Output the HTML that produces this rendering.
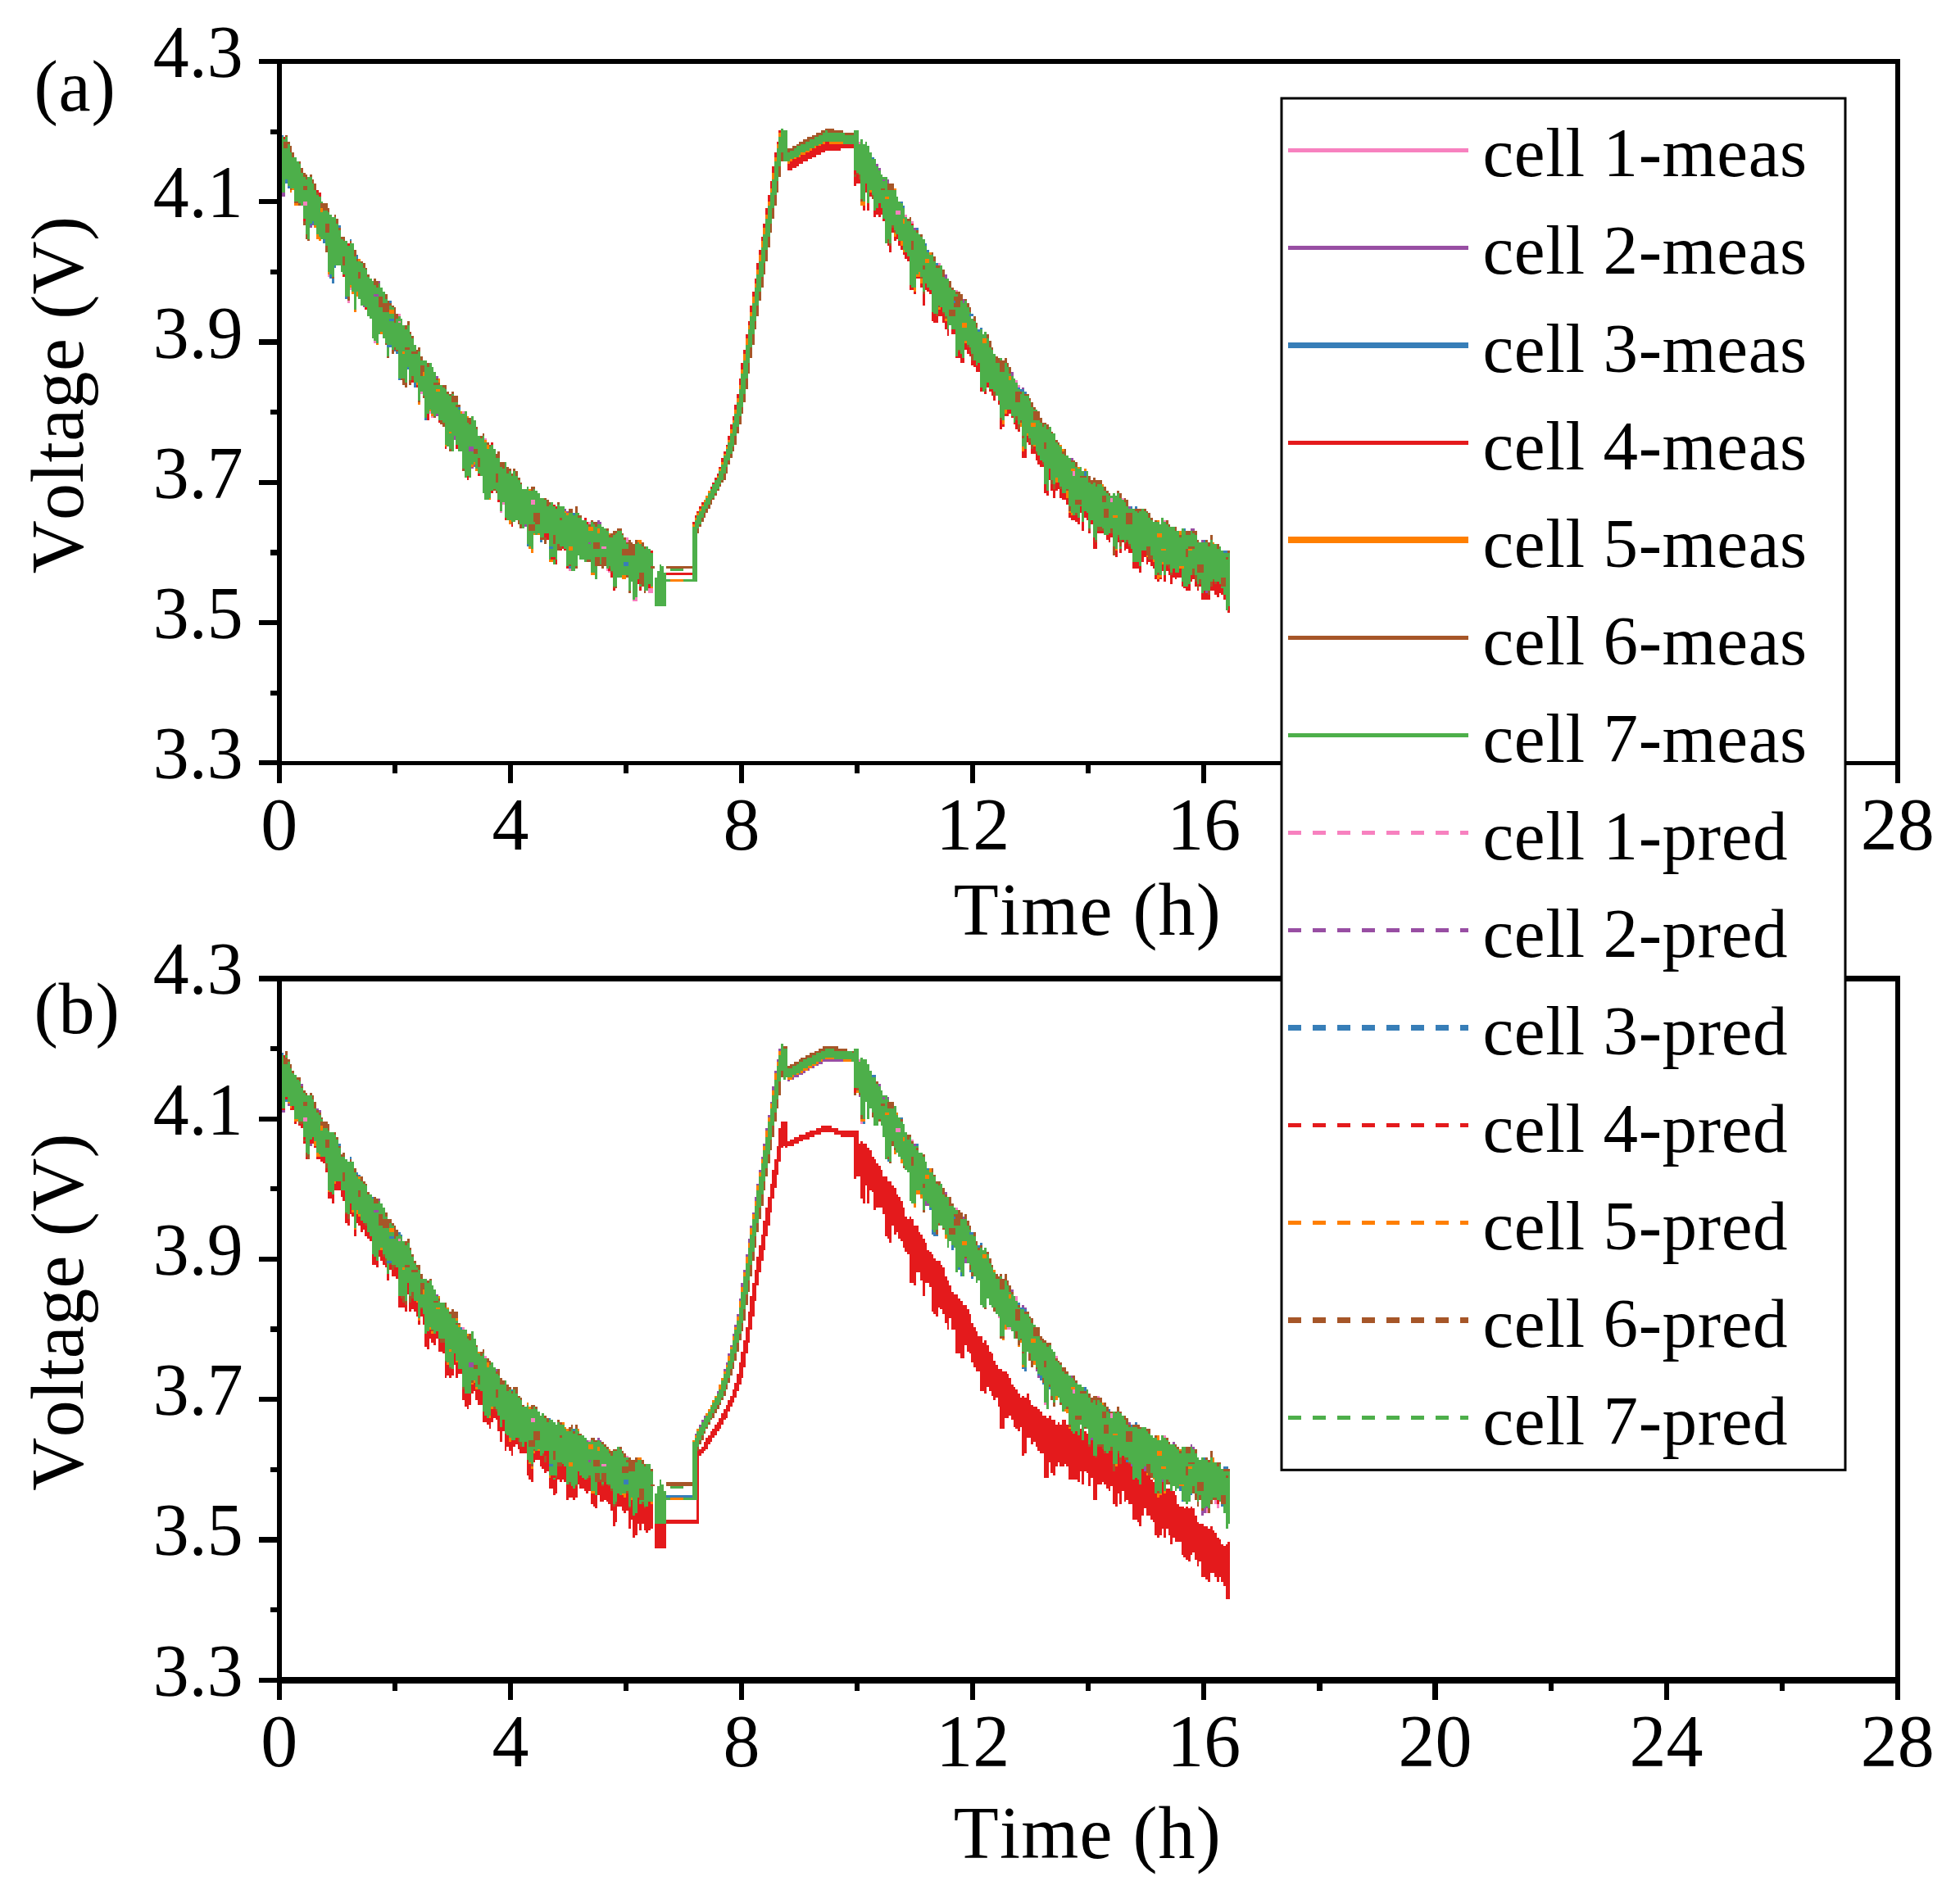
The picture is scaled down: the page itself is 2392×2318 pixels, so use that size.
<!DOCTYPE html>
<html lang="en"><head><meta charset="utf-8"><title>Cell voltage: measured vs predicted</title>
<style>html,body{margin:0;padding:0;background:#fff;overflow:hidden}svg{display:block}</style></head>
<body>
<svg width="2392" height="2318" viewBox="0 0 2392 2318" role="img" aria-label="Measured and predicted cell voltages">
<rect width="2392" height="2318" fill="#fff"/>
<g transform="scale(2.7)" fill="none" stroke-width="1.02" shape-rendering="crispEdges">
<path stroke="#f781bf" d="M126.5 61v25M127.5 62v25M128.5 63v24M129.5 62v20M130.5 65v19M131.5 67v19M132.5 70v16M133.5 71v20M134.5 73v18M135.5 74v18M136.5 78v14M137.5 79v21M138.5 80v27M139.5 82v26M140.5 82v20M141.5 83v18M142.5 85v16M143.5 88v20M144.5 89v19M145.5 91v17M146.5 94v14M147.5 96v16M148.5 97v28M149.5 99v26M150.5 100v27M151.5 98v21M152.5 101v18M153.5 103v16M154.5 108v14M155.5 108v15M156.5 109v25M157.5 110v27M158.5 110v21M159.5 112v19M160.5 115v24M161.5 117v14M162.5 118v15M163.5 119v18M164.5 121v15M165.5 123v15M166.5 126v16M167.5 128v16M168.5 128v25M169.5 129v26M170.5 130v25M171.5 130v20M172.5 130v20M173.5 132v21M174.5 135v20M175.5 136v23M176.5 137v18M177.5 139v19M178.5 141v17M179.5 144v15M180.5 142v29M181.5 144v28M182.5 147v25M183.5 149v24M184.5 147v18M185.5 150v22M186.5 152v18M187.5 157v15M188.5 158v14M189.5 158v22M190.5 162v16M191.5 165v15M192.5 165v24M193.5 166v23M194.5 165v22M195.5 167v22M196.5 169v20M197.5 171v15M198.5 173v16M199.5 176v14M200.5 176v15M201.5 176v26M202.5 178v23M203.5 179v23M204.5 178v26M205.5 180v18M206.5 182v20M207.5 185v19M208.5 187v17M209.5 186v27M210.5 186v28M211.5 190v24M212.5 189v25M213.5 188v21M214.5 191v19M215.5 193v20M216.5 197v17M217.5 199v15M218.5 196v26M219.5 198v26M220.5 201v24M221.5 202v24M222.5 203v19M223.5 204v15M224.5 206v16M225.5 207v19M226.5 210v22M227.5 211v17M228.5 210v24M229.5 212v23M230.5 214v21M231.5 215v22M232.5 213v21M233.5 215v18M234.5 217v18M235.5 218v20M236.5 221v17M237.5 222v15M238.5 221v25M239.5 223v25M240.5 222v28M241.5 220v22M242.5 223v17M243.5 224v16M244.5 225v19M245.5 225v19M246.5 226v18M247.5 228v16M248.5 227v26M249.5 228v24M250.5 230v23M251.5 231v22M252.5 228v19M253.5 229v18M254.5 229v18M255.5 231v17M256.5 233v23M257.5 232v26M258.5 232v26M259.5 234v22M260.5 231v24M261.5 232v18M262.5 234v17M263.5 235v18M264.5 235v19M265.5 237v16M266.5 236v17M267.5 235v24M268.5 237v21M269.5 238v20M270.5 235v19M271.5 236v20M272.5 238v18M273.5 239v16M274.5 240v18M275.5 242v17M276.5 242v17M277.5 241v25M278.5 242v24M279.5 241v18M280.5 241v19M281.5 242v18M282.5 245v15M283.5 243v16M284.5 247v19M285.5 248v15M286.5 246v26M287.5 245v27M288.5 246v16M289.5 246v19M290.5 248v16M291.5 250v18M292.5 249v18M293.5 249v19M294.5 249v19M296.5 261v13M297.5 258v16M298.5 255v19M299.5 256v18M300.5 259v15M301.5 256v1M302.5 256v1M303.5 256v1M304.5 256v1M305.5 256v1M306.5 256v1M307.5 256v1M308.5 256v1M309.5 256v1M310.5 256v1M311.5 256v1M312.5 256v1M313.5 239v18M314.5 237v20M315.5 234v7M316.5 232v6M317.5 230v6M318.5 228v5M319.5 226v5M320.5 224v5M321.5 222v6M322.5 220v6M323.5 219v5M324.5 217v5M325.5 215v5M326.5 212v6M327.5 208v8M328.5 205v8M329.5 202v8M330.5 198v9M331.5 194v9M332.5 189v11M333.5 185v10M334.5 180v11M335.5 173v13M336.5 166v15M337.5 160v15M338.5 153v15M339.5 147v14M340.5 140v14M341.5 134v14M342.5 127v15M343.5 121v14M344.5 115v14M345.5 109v14M346.5 103v13M347.5 96v14M348.5 90v14M349.5 84v14M350.5 77v15M351.5 70v16M352.5 65v14M353.5 60v12M354.5 59v14M355.5 59v14M356.5 70v4M357.5 69v4M358.5 69v4M359.5 68v4M360.5 68v4M361.5 67v4M362.5 66v5M363.5 66v4M364.5 65v4M365.5 65v4M366.5 64v4M367.5 64v4M368.5 63v4M369.5 63v4M370.5 62v4M371.5 62v4M372.5 61v4M373.5 61v4M374.5 61v4M375.5 61v4M376.5 61v4M377.5 61v4M378.5 61v4M379.5 61v4M380.5 61v4M381.5 61v4M382.5 61v4M383.5 61v4M384.5 61v4M385.5 61v4M386.5 59v19M387.5 59v18M388.5 64v16M389.5 64v29M390.5 66v27M391.5 65v17M392.5 68v22M393.5 69v18M394.5 72v16M395.5 73v22M396.5 75v19M397.5 76v16M398.5 79v15M399.5 80v17M400.5 80v28M401.5 83v27M402.5 84v27M403.5 85v17M404.5 87v19M405.5 90v15M406.5 91v15M407.5 92v16M408.5 95v17M409.5 97v17M410.5 100v16M411.5 98v30M412.5 100v29M413.5 104v26M414.5 104v20M415.5 106v18M416.5 107v19M417.5 110v23M418.5 112v16M419.5 115v16M420.5 117v15M421.5 117v26M422.5 119v23M423.5 119v24M424.5 119v20M425.5 120v19M426.5 122v20M427.5 126v19M428.5 127v19M429.5 130v13M430.5 133v16M431.5 131v15M432.5 131v27M433.5 135v24M434.5 135v25M435.5 135v26M436.5 135v21M437.5 139v17M438.5 141v16M439.5 144v18M440.5 144v17M441.5 147v18M442.5 150v14M443.5 149v24M444.5 152v23M445.5 151v25M446.5 152v20M447.5 155v19M448.5 158v17M449.5 160v17M450.5 163v16M451.5 164v17M452.5 163v26M453.5 165v25M454.5 164v21M455.5 167v19M456.5 168v18M457.5 169v17M458.5 171v18M459.5 172v18M460.5 174v18M461.5 177v13M462.5 176v26M463.5 178v25M464.5 178v17M465.5 180v19M466.5 183v19M467.5 185v14M468.5 186v16M469.5 189v17M470.5 191v17M471.5 192v17M472.5 192v29M473.5 195v24M474.5 193v18M475.5 196v21M476.5 196v24M477.5 199v16M478.5 201v15M479.5 202v18M480.5 204v17M481.5 205v16M482.5 207v15M483.5 207v23M484.5 207v25M485.5 209v23M486.5 211v21M487.5 212v21M488.5 211v17M489.5 214v22M490.5 214v16M491.5 214v18M492.5 217v21M493.5 219v16M494.5 216v27M495.5 217v27M496.5 217v21M497.5 219v20M498.5 220v17M499.5 220v21M500.5 222v18M501.5 224v16M502.5 224v15M503.5 224v27M504.5 224v27M505.5 224v19M506.5 225v22M507.5 225v18M508.5 227v19M509.5 228v17M510.5 229v17M511.5 230v17M512.5 231v22M513.5 230v24M514.5 231v23M515.5 232v22M516.5 230v19M517.5 231v18M518.5 232v21M519.5 233v18M520.5 235v18M521.5 237v16M522.5 235v24M523.5 235v25M524.5 237v23M525.5 235v20M526.5 235v26M527.5 235v21M528.5 238v18M529.5 238v22M530.5 238v18M531.5 239v17M532.5 241v14M533.5 243v13M534.5 240v22M535.5 240v22M536.5 242v21M537.5 242v22M538.5 240v20M539.5 242v16M540.5 243v20M541.5 245v21M542.5 246v15M543.5 245v23M544.5 245v22M545.5 245v24M546.5 245v25M547.5 243v20M548.5 245v18M549.5 246v20M550.5 248v19M551.5 248v16M552.5 249v17M553.5 249v19M554.5 250v24M555.5 250v24"/>
<path stroke="#984ea3" d="M126.5 61v23M127.5 63v26M128.5 63v26M129.5 62v21M130.5 65v20M131.5 68v18M132.5 70v16M133.5 71v20M134.5 73v18M135.5 75v17M136.5 76v17M137.5 79v22M138.5 80v27M139.5 81v27M140.5 81v22M141.5 83v19M142.5 85v18M143.5 87v21M144.5 88v21M145.5 91v17M146.5 94v14M147.5 96v16M148.5 96v26M149.5 99v26M150.5 100v27M151.5 98v21M152.5 100v19M153.5 104v16M154.5 109v13M155.5 108v14M156.5 109v25M157.5 110v25M158.5 110v19M159.5 111v20M160.5 114v25M161.5 117v15M162.5 118v17M163.5 120v18M164.5 120v19M165.5 122v17M166.5 126v14M167.5 127v15M168.5 128v24M169.5 129v23M170.5 128v28M171.5 127v24M172.5 131v20M173.5 133v18M174.5 135v18M175.5 136v23M176.5 137v19M177.5 139v20M178.5 141v17M179.5 144v15M180.5 144v27M181.5 145v27M182.5 147v25M183.5 148v25M184.5 147v18M185.5 151v22M186.5 153v18M187.5 156v19M188.5 158v17M189.5 159v22M190.5 164v13M191.5 164v15M192.5 164v25M193.5 165v24M194.5 164v20M195.5 166v20M196.5 169v20M197.5 170v18M198.5 172v19M199.5 176v15M200.5 176v15M201.5 176v25M202.5 178v24M203.5 179v24M204.5 179v25M205.5 181v18M206.5 182v20M207.5 185v18M208.5 187v15M209.5 187v25M210.5 187v27M211.5 190v25M212.5 190v25M213.5 189v23M214.5 191v20M215.5 194v18M216.5 197v18M217.5 199v14M218.5 198v24M219.5 199v25M220.5 200v24M221.5 202v23M222.5 202v20M223.5 204v17M224.5 205v17M225.5 207v19M226.5 211v19M227.5 212v15M228.5 211v23M229.5 212v23M230.5 214v22M231.5 216v22M232.5 212v22M233.5 214v19M234.5 217v18M235.5 218v19M236.5 222v17M237.5 223v15M238.5 221v25M239.5 223v24M240.5 222v26M241.5 221v19M242.5 222v16M243.5 224v15M244.5 226v19M245.5 227v17M246.5 228v16M247.5 228v15M248.5 227v27M249.5 229v25M250.5 229v24M251.5 229v23M252.5 228v21M253.5 230v18M254.5 230v17M255.5 230v17M256.5 231v24M257.5 232v24M258.5 232v23M259.5 233v22M260.5 231v24M261.5 232v18M262.5 233v18M263.5 235v17M264.5 236v16M265.5 237v16M266.5 238v15M267.5 237v21M268.5 237v21M269.5 238v22M270.5 235v18M271.5 236v20M272.5 238v19M273.5 240v16M274.5 239v17M275.5 241v15M276.5 243v16M277.5 241v25M278.5 241v25M279.5 240v19M280.5 242v18M281.5 241v19M282.5 243v17M283.5 245v15M284.5 246v21M285.5 247v16M286.5 246v25M287.5 246v24M288.5 245v19M289.5 246v20M290.5 247v17M291.5 247v20M292.5 249v18M293.5 249v15M294.5 250v14M296.5 261v13M297.5 258v16M298.5 255v19M299.5 256v18M300.5 259v15M301.5 256v1M302.5 256v1M303.5 256v1M304.5 256v1M305.5 256v1M306.5 256v1M307.5 256v1M308.5 256v1M309.5 256v1M310.5 256v1M311.5 256v1M312.5 256v1M313.5 236v21M314.5 234v23M315.5 231v7M316.5 230v5M317.5 228v5M318.5 226v5M319.5 224v5M320.5 222v5M321.5 220v5M322.5 218v6M323.5 216v6M324.5 214v6M325.5 211v7M326.5 208v8M327.5 205v8M328.5 201v8M329.5 198v8M330.5 193v10M331.5 189v10M332.5 184v11M333.5 179v11M334.5 172v14M335.5 166v15M336.5 159v15M337.5 152v15M338.5 146v14M339.5 139v15M340.5 133v14M341.5 127v14M342.5 120v15M343.5 114v14M344.5 108v14M345.5 102v14M346.5 96v14M347.5 89v15M348.5 83v14M349.5 77v14M350.5 70v15M351.5 65v13M352.5 60v11M353.5 58v8M354.5 59v14M355.5 59v14M356.5 70v4M357.5 70v4M358.5 69v4M359.5 69v4M360.5 68v4M361.5 67v4M362.5 67v4M363.5 66v4M364.5 66v4M365.5 65v4M366.5 65v4M367.5 64v4M368.5 64v4M369.5 63v4M370.5 63v4M371.5 62v4M372.5 61v5M373.5 61v4M374.5 61v4M375.5 61v4M376.5 61v4M377.5 61v4M378.5 61v4M379.5 61v4M380.5 61v4M381.5 61v4M382.5 61v4M383.5 61v4M384.5 61v4M385.5 61v5M386.5 59v20M387.5 59v20M388.5 66v16M389.5 63v28M390.5 65v26M391.5 66v17M392.5 68v23M393.5 69v18M394.5 73v15M395.5 73v21M396.5 74v19M397.5 76v16M398.5 79v14M399.5 81v15M400.5 80v28M401.5 81v28M402.5 84v26M403.5 85v17M404.5 86v20M405.5 89v17M406.5 91v17M407.5 92v18M408.5 95v17M409.5 98v14M410.5 100v14M411.5 99v28M412.5 102v26M413.5 103v27M414.5 103v20M415.5 106v17M416.5 107v19M417.5 109v24M418.5 111v19M419.5 115v15M420.5 115v14M421.5 116v24M422.5 119v23M423.5 120v23M424.5 120v19M425.5 122v17M426.5 123v19M427.5 124v20M428.5 127v20M429.5 129v15M430.5 131v18M431.5 131v15M432.5 133v25M433.5 135v22M434.5 134v25M435.5 135v27M436.5 137v19M437.5 139v18M438.5 141v17M439.5 144v18M440.5 145v16M441.5 148v16M442.5 151v13M443.5 150v23M444.5 153v22M445.5 152v24M446.5 153v19M447.5 156v17M448.5 158v16M449.5 160v19M450.5 163v16M451.5 164v15M452.5 164v26M453.5 165v26M454.5 164v20M455.5 167v16M456.5 167v17M457.5 168v18M458.5 171v18M459.5 173v16M460.5 176v17M461.5 179v12M462.5 175v29M463.5 177v28M464.5 179v17M465.5 181v17M466.5 183v18M467.5 186v15M468.5 186v19M469.5 189v19M470.5 191v17M471.5 192v19M472.5 192v26M473.5 195v24M474.5 194v18M475.5 196v21M476.5 197v23M477.5 200v17M478.5 201v17M479.5 202v19M480.5 205v15M481.5 206v17M482.5 208v16M483.5 207v25M484.5 207v26M485.5 210v22M486.5 211v21M487.5 212v21M488.5 211v17M489.5 213v23M490.5 214v17M491.5 215v16M492.5 217v22M493.5 219v18M494.5 217v27M495.5 219v26M496.5 218v20M497.5 219v19M498.5 220v21M499.5 221v21M500.5 223v17M501.5 225v15M502.5 225v14M503.5 225v24M504.5 226v24M505.5 224v18M506.5 225v21M507.5 226v18M508.5 226v20M509.5 227v18M510.5 229v17M511.5 229v20M512.5 230v25M513.5 230v24M514.5 231v23M515.5 231v23M516.5 230v19M517.5 231v20M518.5 232v19M519.5 234v17M520.5 236v15M521.5 237v15M522.5 236v23M523.5 236v25M524.5 237v24M525.5 235v21M526.5 236v25M527.5 237v18M528.5 238v18M529.5 238v22M530.5 238v19M531.5 240v17M532.5 241v15M533.5 243v14M534.5 242v21M535.5 240v23M536.5 240v23M537.5 242v21M538.5 239v23M539.5 239v20M540.5 241v21M541.5 245v20M542.5 246v17M543.5 244v26M544.5 244v25M545.5 244v24M546.5 246v22M547.5 244v20M548.5 246v17M549.5 246v18M550.5 248v17M551.5 248v16M552.5 250v16M553.5 250v17M554.5 250v24M555.5 250v24"/>
<path stroke="#377eb8" d="M126.5 59v26M127.5 61v26M128.5 64v23M129.5 64v19M130.5 65v20M131.5 69v18M132.5 71v15M133.5 72v19M134.5 73v18M135.5 74v18M136.5 77v15M137.5 79v22M138.5 80v27M139.5 81v27M140.5 80v22M141.5 82v19M142.5 86v14M143.5 89v16M144.5 90v17M145.5 91v17M146.5 93v17M147.5 96v17M148.5 96v28M149.5 98v28M150.5 98v30M151.5 97v24M152.5 101v18M153.5 102v18M154.5 107v15M155.5 109v14M156.5 110v25M157.5 111v24M158.5 108v21M159.5 110v21M160.5 115v24M161.5 115v17M162.5 117v16M163.5 118v20M164.5 121v16M165.5 123v17M166.5 126v15M167.5 127v14M168.5 127v24M169.5 130v23M170.5 129v25M171.5 128v21M172.5 131v19M173.5 133v19M174.5 134v20M175.5 137v22M176.5 136v20M177.5 138v21M178.5 141v18M179.5 144v16M180.5 143v29M181.5 144v27M182.5 147v27M183.5 149v25M184.5 148v19M185.5 151v21M186.5 153v20M187.5 156v19M188.5 158v15M189.5 159v23M190.5 163v14M191.5 163v17M192.5 165v25M193.5 166v23M194.5 165v20M195.5 168v19M196.5 169v20M197.5 171v16M198.5 173v17M199.5 176v14M200.5 175v16M201.5 177v25M202.5 177v25M203.5 179v24M204.5 179v23M205.5 181v16M206.5 182v19M207.5 184v18M208.5 186v16M209.5 187v26M210.5 186v28M211.5 189v25M212.5 191v24M213.5 189v21M214.5 193v16M215.5 195v17M216.5 197v17M217.5 199v16M218.5 198v25M219.5 200v24M220.5 202v22M221.5 202v23M222.5 202v20M223.5 205v16M224.5 206v16M225.5 207v19M226.5 210v20M227.5 211v16M228.5 210v24M229.5 212v23M230.5 213v22M231.5 214v23M232.5 214v20M233.5 215v18M234.5 217v18M235.5 219v20M236.5 221v18M237.5 222v15M238.5 221v26M239.5 223v25M240.5 222v26M241.5 221v19M242.5 222v19M243.5 224v18M244.5 226v19M245.5 226v18M246.5 227v17M247.5 228v15M248.5 227v26M249.5 229v24M250.5 229v26M251.5 229v26M252.5 228v21M253.5 230v17M254.5 230v17M255.5 232v16M256.5 233v22M257.5 232v25M258.5 232v25M259.5 232v24M260.5 230v25M261.5 232v19M262.5 234v18M263.5 235v17M264.5 235v17M265.5 237v16M266.5 237v16M267.5 236v22M268.5 237v21M269.5 238v23M270.5 237v16M271.5 237v19M272.5 238v19M273.5 239v16M274.5 240v15M275.5 242v14M276.5 242v17M277.5 242v24M278.5 242v22M279.5 241v17M280.5 242v16M281.5 242v18M282.5 243v17M283.5 246v13M284.5 247v19M285.5 247v16M286.5 246v25M287.5 246v24M288.5 245v17M289.5 245v20M290.5 246v18M291.5 250v17M292.5 250v17M293.5 249v17M294.5 250v16M296.5 261v13M297.5 258v16M298.5 255v19M299.5 256v18M300.5 259v15M301.5 262v1M302.5 262v1M303.5 262v1M304.5 262v1M305.5 262v1M306.5 262v1M307.5 262v1M308.5 262v1M309.5 262v1M310.5 262v1M311.5 262v1M312.5 262v1M313.5 239v24M314.5 236v27M315.5 234v6M316.5 231v7M317.5 229v6M318.5 228v5M319.5 226v5M320.5 224v5M321.5 222v5M322.5 220v5M323.5 218v5M324.5 216v6M325.5 214v6M326.5 211v7M327.5 208v8M328.5 204v8M329.5 201v8M330.5 197v9M331.5 193v10M332.5 188v11M333.5 184v10M334.5 179v11M335.5 172v13M336.5 165v15M337.5 158v15M338.5 152v15M339.5 145v15M340.5 139v14M341.5 133v14M342.5 126v15M343.5 120v14M344.5 114v14M345.5 108v13M346.5 102v13M347.5 95v14M348.5 89v14M349.5 83v14M350.5 76v14M351.5 69v16M352.5 64v13M353.5 59v12M354.5 59v14M355.5 59v14M356.5 69v4M357.5 69v4M358.5 68v4M359.5 67v4M360.5 67v4M361.5 66v4M362.5 66v4M363.5 65v4M364.5 65v4M365.5 64v4M366.5 64v4M367.5 63v4M368.5 63v4M369.5 62v4M370.5 61v5M371.5 61v4M372.5 60v4M373.5 60v4M374.5 60v4M375.5 60v4M376.5 60v4M377.5 60v4M378.5 60v4M379.5 60v5M380.5 61v4M381.5 61v4M382.5 61v4M383.5 61v4M384.5 61v4M385.5 61v4M386.5 59v21M387.5 59v19M388.5 66v14M389.5 65v26M390.5 66v27M391.5 65v17M392.5 68v22M393.5 69v18M394.5 71v17M395.5 72v23M396.5 75v19M397.5 77v15M398.5 79v15M399.5 81v16M400.5 81v28M401.5 83v27M402.5 84v26M403.5 85v17M404.5 87v19M405.5 90v15M406.5 91v16M407.5 91v18M408.5 93v18M409.5 98v15M410.5 100v14M411.5 99v29M412.5 102v28M413.5 104v27M414.5 103v20M415.5 107v16M416.5 108v18M417.5 109v24M418.5 110v18M419.5 113v16M420.5 115v17M421.5 116v27M422.5 119v25M423.5 119v26M424.5 120v19M425.5 122v16M426.5 123v17M427.5 126v18M428.5 127v20M429.5 129v17M430.5 130v20M431.5 131v15M432.5 133v28M433.5 136v23M434.5 136v26M435.5 137v25M436.5 137v18M437.5 139v18M438.5 141v19M439.5 144v20M440.5 145v18M441.5 148v17M442.5 149v15M443.5 148v25M444.5 152v22M445.5 151v24M446.5 153v19M447.5 156v18M448.5 158v18M449.5 160v18M450.5 161v16M451.5 163v16M452.5 164v25M453.5 165v25M454.5 164v22M455.5 167v16M456.5 169v14M457.5 170v16M458.5 171v18M459.5 173v17M460.5 175v18M461.5 176v16M462.5 176v28M463.5 177v28M464.5 178v18M465.5 180v18M466.5 183v17M467.5 186v15M468.5 185v19M469.5 187v20M470.5 191v19M471.5 193v18M472.5 193v26M473.5 194v28M474.5 193v21M475.5 196v21M476.5 197v23M477.5 200v17M478.5 201v17M479.5 202v19M480.5 205v17M481.5 206v15M482.5 208v14M483.5 209v21M484.5 209v21M485.5 208v23M486.5 209v23M487.5 212v21M488.5 212v16M489.5 214v22M490.5 214v17M491.5 215v17M492.5 217v21M493.5 219v16M494.5 217v25M495.5 219v24M496.5 218v19M497.5 219v19M498.5 220v19M499.5 221v19M500.5 223v18M501.5 223v20M502.5 226v15M503.5 225v24M504.5 225v22M505.5 224v21M506.5 225v22M507.5 226v17M508.5 227v20M509.5 228v18M510.5 230v17M511.5 229v18M512.5 230v23M513.5 229v25M514.5 230v24M515.5 230v24M516.5 230v19M517.5 231v18M518.5 233v18M519.5 234v17M520.5 234v16M521.5 236v16M522.5 235v25M523.5 235v25M524.5 238v22M525.5 235v20M526.5 237v23M527.5 237v18M528.5 238v17M529.5 239v20M530.5 238v19M531.5 238v19M532.5 240v16M533.5 240v19M534.5 240v25M535.5 239v24M536.5 241v24M537.5 242v23M538.5 240v22M539.5 241v16M540.5 242v21M541.5 245v18M542.5 246v14M543.5 245v23M544.5 244v23M545.5 244v24M546.5 246v22M547.5 244v20M548.5 246v17M549.5 247v17M550.5 247v18M551.5 248v17M552.5 250v16M553.5 249v18M554.5 249v27M555.5 250v25"/>
<path stroke="#e41a1c" d="M126.5 59v26M127.5 62v25M128.5 62v25M129.5 61v20M130.5 64v20M131.5 68v18M132.5 70v16M133.5 71v20M134.5 73v18M135.5 74v18M136.5 76v17M137.5 78v22M138.5 80v27M139.5 81v26M140.5 80v20M141.5 82v18M142.5 85v17M143.5 86v20M144.5 87v20M145.5 91v17M146.5 94v14M147.5 96v16M148.5 96v28M149.5 99v25M150.5 100v26M151.5 98v21M152.5 100v19M153.5 103v17M154.5 108v15M155.5 108v17M156.5 109v25M157.5 110v26M158.5 110v20M159.5 111v20M160.5 114v27M161.5 117v17M162.5 118v17M163.5 119v19M164.5 120v17M165.5 123v17M166.5 125v16M167.5 126v16M168.5 128v25M169.5 129v24M170.5 130v24M171.5 129v20M172.5 131v20M173.5 133v20M174.5 135v19M175.5 137v22M176.5 138v17M177.5 139v18M178.5 141v17M179.5 144v15M180.5 144v27M181.5 145v27M182.5 147v25M183.5 149v24M184.5 147v19M185.5 151v22M186.5 154v19M187.5 156v17M188.5 158v17M189.5 159v21M190.5 163v12M191.5 165v14M192.5 165v24M193.5 166v24M194.5 165v20M195.5 167v20M196.5 169v19M197.5 171v15M198.5 171v20M199.5 175v17M200.5 176v17M201.5 176v27M202.5 178v24M203.5 179v24M204.5 178v25M205.5 180v17M206.5 182v21M207.5 185v16M208.5 187v14M209.5 187v26M210.5 187v29M211.5 190v27M212.5 191v24M213.5 188v22M214.5 191v18M215.5 194v19M216.5 197v18M217.5 199v16M218.5 198v25M219.5 200v23M220.5 200v24M221.5 201v25M222.5 200v23M223.5 204v17M224.5 206v16M225.5 207v20M226.5 210v21M227.5 211v16M228.5 210v25M229.5 212v22M230.5 212v24M231.5 214v24M232.5 213v21M233.5 215v18M234.5 217v18M235.5 218v19M236.5 221v16M237.5 222v15M238.5 221v25M239.5 222v26M240.5 222v28M241.5 221v19M242.5 222v18M243.5 224v15M244.5 226v16M245.5 227v17M246.5 229v17M247.5 228v16M248.5 227v26M249.5 228v25M250.5 228v27M251.5 229v26M252.5 228v21M253.5 230v19M254.5 231v17M255.5 233v16M256.5 234v23M257.5 231v25M258.5 231v25M259.5 233v24M260.5 231v25M261.5 232v18M262.5 234v17M263.5 235v17M264.5 234v18M265.5 236v17M266.5 237v16M267.5 235v23M268.5 236v23M269.5 239v21M270.5 238v15M271.5 237v19M272.5 238v19M273.5 239v16M274.5 240v17M275.5 242v16M276.5 242v19M277.5 241v26M278.5 241v25M279.5 241v17M280.5 243v15M281.5 243v17M282.5 244v16M283.5 245v15M284.5 246v21M285.5 247v16M286.5 246v25M287.5 247v23M288.5 245v19M289.5 246v21M290.5 247v17M291.5 248v19M292.5 249v18M293.5 249v17M294.5 249v16M296.5 261v13M297.5 258v16M298.5 255v19M299.5 256v18M300.5 259v15M301.5 259v1M302.5 259v1M303.5 259v1M304.5 259v1M305.5 259v1M306.5 259v1M307.5 259v1M308.5 259v1M309.5 259v1M310.5 259v1M311.5 259v1M312.5 259v1M313.5 236v24M314.5 233v27M315.5 231v6M316.5 229v6M317.5 227v6M318.5 226v5M319.5 224v5M320.5 222v5M321.5 220v5M322.5 218v5M323.5 216v5M324.5 214v5M325.5 211v7M326.5 207v8M327.5 204v8M328.5 201v8M329.5 197v9M330.5 192v10M331.5 188v10M332.5 183v11M333.5 178v11M334.5 171v14M335.5 164v15M336.5 158v15M337.5 151v15M338.5 145v14M339.5 138v15M340.5 132v14M341.5 126v14M342.5 119v14M343.5 113v14M344.5 107v14M345.5 101v14M346.5 94v15M347.5 88v14M348.5 82v14M349.5 75v15M350.5 69v15M351.5 64v13M352.5 59v11M353.5 58v7M354.5 59v14M355.5 59v14M356.5 73v4M357.5 73v4M358.5 72v4M359.5 71v5M360.5 71v4M361.5 70v4M362.5 70v4M363.5 69v4M364.5 69v4M365.5 68v4M366.5 68v4M367.5 67v4M368.5 67v4M369.5 66v4M370.5 66v4M371.5 65v4M372.5 64v5M373.5 64v4M374.5 64v4M375.5 64v4M376.5 64v4M377.5 64v4M378.5 64v4M379.5 64v4M380.5 63v4M381.5 63v4M382.5 63v4M383.5 63v4M384.5 63v4M385.5 62v5M386.5 59v25M387.5 59v24M388.5 66v17M389.5 66v27M390.5 67v28M391.5 67v20M392.5 69v26M393.5 69v20M394.5 73v17M395.5 74v24M396.5 76v21M397.5 77v21M398.5 79v18M399.5 82v18M400.5 82v28M401.5 84v27M402.5 84v30M403.5 86v19M404.5 87v22M405.5 90v18M406.5 91v20M407.5 93v20M408.5 96v19M409.5 100v17M410.5 101v17M411.5 101v30M412.5 101v30M413.5 104v29M414.5 104v22M415.5 107v19M416.5 109v21M417.5 110v28M418.5 112v19M419.5 115v17M420.5 116v17M421.5 117v28M422.5 120v26M423.5 120v26M424.5 121v22M425.5 123v20M426.5 124v22M427.5 127v22M428.5 129v23M429.5 130v17M430.5 133v18M431.5 134v17M432.5 134v28M433.5 136v26M434.5 136v28M435.5 138v26M436.5 138v20M437.5 140v20M438.5 142v19M439.5 146v19M440.5 147v19M441.5 149v19M442.5 151v17M443.5 151v26M444.5 153v24M445.5 152v26M446.5 154v21M447.5 157v20M448.5 159v20M449.5 161v20M450.5 163v16M451.5 165v18M452.5 165v29M453.5 166v27M454.5 166v22M455.5 167v21M456.5 169v18M457.5 172v17M458.5 173v19M459.5 174v20M460.5 177v18M461.5 179v14M462.5 179v28M463.5 180v27M464.5 179v21M465.5 182v19M466.5 185v20M467.5 188v17M468.5 188v20M469.5 190v20M470.5 191v20M471.5 194v17M472.5 194v29M473.5 195v29M474.5 195v22M475.5 197v25M476.5 199v26M477.5 202v20M478.5 202v19M479.5 204v21M480.5 204v22M481.5 205v21M482.5 208v20M483.5 208v26M484.5 209v26M485.5 210v25M486.5 210v26M487.5 211v26M488.5 212v20M489.5 214v26M490.5 215v19M491.5 216v19M492.5 218v23M493.5 220v17M494.5 218v30M495.5 220v28M496.5 219v22M497.5 220v21M498.5 222v19M499.5 223v19M500.5 223v21M501.5 225v20M502.5 225v18M503.5 225v26M504.5 225v27M505.5 225v20M506.5 226v24M507.5 226v19M508.5 228v21M509.5 230v18M510.5 231v19M511.5 232v18M512.5 231v26M513.5 231v26M514.5 232v25M515.5 232v27M516.5 230v24M517.5 233v19M518.5 234v21M519.5 235v19M520.5 237v19M521.5 238v19M522.5 236v26M523.5 236v27M524.5 239v23M525.5 237v21M526.5 238v25M527.5 239v19M528.5 239v21M529.5 239v25M530.5 239v22M531.5 240v22M532.5 243v18M533.5 244v17M534.5 243v22M535.5 242v24M536.5 241v26M537.5 242v25M538.5 240v23M539.5 241v21M540.5 243v22M541.5 246v21M542.5 246v19M543.5 246v25M544.5 246v25M545.5 246v25M546.5 247v24M547.5 245v22M548.5 247v20M549.5 247v22M550.5 249v21M551.5 250v18M552.5 251v18M553.5 252v19M554.5 251v25M555.5 249v28"/>
<path stroke="#ff7f00" d="M126.5 61v23M127.5 62v25M128.5 63v24M129.5 62v19M130.5 65v19M131.5 68v19M132.5 70v16M133.5 71v22M134.5 73v20M135.5 74v16M136.5 77v16M137.5 79v22M138.5 80v26M139.5 81v28M140.5 81v18M141.5 83v15M142.5 85v18M143.5 88v20M144.5 89v20M145.5 91v17M146.5 94v13M147.5 96v16M148.5 96v28M149.5 98v26M150.5 99v25M151.5 97v23M152.5 99v19M153.5 103v15M154.5 108v14M155.5 108v15M156.5 109v24M157.5 111v24M158.5 110v20M159.5 112v21M160.5 115v26M161.5 117v17M162.5 117v18M163.5 118v19M164.5 120v16M165.5 122v16M166.5 125v16M167.5 127v16M168.5 127v26M169.5 129v24M170.5 130v26M171.5 128v21M172.5 132v19M173.5 133v20M174.5 136v19M175.5 136v24M176.5 137v18M177.5 139v21M178.5 141v16M179.5 144v14M180.5 144v27M181.5 145v27M182.5 147v25M183.5 147v26M184.5 146v20M185.5 151v22M186.5 153v18M187.5 156v17M188.5 158v16M189.5 159v24M190.5 162v15M191.5 164v16M192.5 164v25M193.5 166v23M194.5 164v22M195.5 166v22M196.5 168v21M197.5 171v16M198.5 171v19M199.5 177v12M200.5 178v12M201.5 176v26M202.5 177v25M203.5 180v23M204.5 178v25M205.5 179v18M206.5 182v19M207.5 185v16M208.5 186v15M209.5 187v26M210.5 187v27M211.5 188v26M212.5 190v25M213.5 190v21M214.5 193v17M215.5 194v19M216.5 197v16M217.5 199v15M218.5 198v25M219.5 199v25M220.5 200v25M221.5 201v25M222.5 202v20M223.5 204v17M224.5 206v15M225.5 207v18M226.5 211v18M227.5 211v16M228.5 211v23M229.5 212v23M230.5 213v24M231.5 215v22M232.5 213v22M233.5 215v19M234.5 217v18M235.5 219v19M236.5 222v16M237.5 222v15M238.5 220v26M239.5 221v27M240.5 223v27M241.5 222v20M242.5 222v19M243.5 224v18M244.5 226v17M245.5 226v18M246.5 227v17M247.5 227v16M248.5 227v27M249.5 228v26M250.5 229v24M251.5 230v23M252.5 228v19M253.5 230v17M254.5 229v17M255.5 231v17M256.5 232v24M257.5 231v25M258.5 231v25M259.5 233v23M260.5 231v26M261.5 232v19M262.5 233v17M263.5 235v16M264.5 235v17M265.5 238v15M266.5 238v16M267.5 236v24M268.5 237v23M269.5 238v22M270.5 237v17M271.5 237v19M272.5 238v18M273.5 240v16M274.5 240v17M275.5 241v16M276.5 241v18M277.5 241v25M278.5 241v25M279.5 241v18M280.5 241v19M281.5 242v20M282.5 244v18M283.5 245v15M284.5 247v20M285.5 248v15M286.5 246v25M287.5 246v24M288.5 244v18M289.5 244v21M290.5 247v17M291.5 248v18M292.5 249v16M293.5 248v16M294.5 251v15M296.5 261v13M297.5 258v16M298.5 255v19M299.5 256v18M300.5 259v15M301.5 262v1M302.5 262v1M303.5 262v1M304.5 262v1M305.5 262v1M306.5 262v1M307.5 262v1M308.5 262v1M309.5 262v1M310.5 262v1M311.5 262v1M312.5 262v1M313.5 237v26M314.5 234v29M315.5 232v6M316.5 230v6M317.5 228v5M318.5 226v5M319.5 224v6M320.5 222v6M321.5 221v5M322.5 219v5M323.5 217v5M324.5 215v5M325.5 212v6M326.5 209v7M327.5 205v8M328.5 202v8M329.5 199v8M330.5 194v10M331.5 190v10M332.5 185v11M333.5 180v11M334.5 174v13M335.5 167v15M336.5 160v15M337.5 153v15M338.5 147v15M339.5 141v14M340.5 134v15M341.5 128v14M342.5 122v14M343.5 115v14M344.5 109v14M345.5 103v14M346.5 97v14M347.5 91v14M348.5 85v13M349.5 78v14M350.5 71v15M351.5 65v14M352.5 60v12M353.5 58v9M354.5 59v14M355.5 59v14M356.5 69v5M357.5 69v4M358.5 68v4M359.5 68v4M360.5 67v4M361.5 67v4M362.5 66v4M363.5 66v4M364.5 65v4M365.5 64v5M366.5 64v4M367.5 63v4M368.5 63v4M369.5 62v4M370.5 62v4M371.5 61v4M372.5 61v4M373.5 60v4M374.5 60v4M375.5 60v5M376.5 61v4M377.5 61v4M378.5 61v4M379.5 61v4M380.5 61v4M381.5 61v4M382.5 61v4M383.5 61v4M384.5 61v4M385.5 61v4M386.5 59v21M387.5 59v20M388.5 65v16M389.5 65v28M390.5 66v27M391.5 65v18M392.5 69v22M393.5 71v16M394.5 73v15M395.5 73v21M396.5 75v19M397.5 77v15M398.5 79v15M399.5 81v16M400.5 82v26M401.5 83v26M402.5 84v26M403.5 85v16M404.5 85v22M405.5 89v17M406.5 91v16M407.5 93v18M408.5 96v18M409.5 98v15M410.5 101v14M411.5 100v28M412.5 102v27M413.5 105v27M414.5 105v20M415.5 107v18M416.5 108v20M417.5 110v23M418.5 111v17M419.5 115v13M420.5 114v16M421.5 115v26M422.5 118v24M423.5 120v23M424.5 120v20M425.5 122v17M426.5 123v18M427.5 126v19M428.5 127v22M429.5 129v15M430.5 133v16M431.5 133v14M432.5 133v26M433.5 135v24M434.5 136v24M435.5 138v23M436.5 137v18M437.5 139v18M438.5 142v16M439.5 144v18M440.5 146v16M441.5 149v15M442.5 152v12M443.5 149v24M444.5 152v22M445.5 150v25M446.5 153v19M447.5 156v18M448.5 158v17M449.5 160v17M450.5 163v14M451.5 164v15M452.5 164v25M453.5 165v27M454.5 164v23M455.5 166v18M456.5 168v16M457.5 170v15M458.5 171v19M459.5 174v16M460.5 177v17M461.5 178v15M462.5 177v27M463.5 178v25M464.5 178v19M465.5 180v18M466.5 183v19M467.5 186v16M468.5 186v18M469.5 187v19M470.5 190v17M471.5 191v17M472.5 192v27M473.5 192v30M474.5 193v19M475.5 195v22M476.5 196v25M477.5 201v17M478.5 202v16M479.5 201v20M480.5 203v19M481.5 205v18M482.5 208v17M483.5 208v24M484.5 208v25M485.5 210v22M486.5 210v22M487.5 211v22M488.5 211v17M489.5 213v23M490.5 212v19M491.5 213v19M492.5 217v21M493.5 219v16M494.5 217v26M495.5 220v24M496.5 219v19M497.5 219v20M498.5 219v19M499.5 221v18M500.5 223v18M501.5 225v16M502.5 226v12M503.5 224v23M504.5 224v25M505.5 223v20M506.5 225v22M507.5 226v17M508.5 226v20M509.5 228v17M510.5 230v17M511.5 231v16M512.5 230v23M513.5 230v24M514.5 231v22M515.5 231v22M516.5 230v19M517.5 231v18M518.5 232v20M519.5 233v19M520.5 236v15M521.5 237v17M522.5 236v24M523.5 235v27M524.5 237v24M525.5 235v20M526.5 236v24M527.5 237v18M528.5 238v18M529.5 239v21M530.5 238v19M531.5 240v17M532.5 241v15M533.5 240v17M534.5 239v24M535.5 240v23M536.5 242v21M537.5 242v21M538.5 240v20M539.5 241v17M540.5 242v19M541.5 246v18M542.5 246v16M543.5 245v23M544.5 246v20M545.5 245v22M546.5 246v22M547.5 243v21M548.5 245v18M549.5 246v17M550.5 249v16M551.5 249v15M552.5 251v15M553.5 250v17M554.5 251v23M555.5 251v22"/>
<path stroke="#a65628" d="M126.5 60v25M127.5 62v25M128.5 63v24M129.5 61v20M130.5 64v20M131.5 66v20M132.5 69v16M133.5 71v21M134.5 73v19M135.5 73v20M136.5 76v17M137.5 78v24M138.5 79v29M139.5 80v29M140.5 79v22M141.5 81v18M142.5 83v18M143.5 87v19M144.5 89v17M145.5 91v17M146.5 94v13M147.5 96v18M148.5 94v28M149.5 97v26M150.5 99v27M151.5 97v22M152.5 99v20M153.5 103v17M154.5 107v15M155.5 107v15M156.5 109v25M157.5 111v25M158.5 109v20M159.5 110v21M160.5 113v26M161.5 117v15M162.5 118v15M163.5 118v18M164.5 119v17M165.5 121v18M166.5 124v16M167.5 127v14M168.5 127v26M169.5 126v27M170.5 127v26M171.5 128v21M172.5 130v20M173.5 133v20M174.5 133v23M175.5 136v26M176.5 137v20M177.5 138v22M178.5 139v19M179.5 142v17M180.5 144v27M181.5 145v27M182.5 147v27M183.5 147v28M184.5 145v21M185.5 150v24M186.5 152v20M187.5 156v17M188.5 158v15M189.5 157v25M190.5 161v16M191.5 165v15M192.5 164v25M193.5 164v25M194.5 164v21M195.5 167v20M196.5 169v20M197.5 171v16M198.5 173v17M199.5 174v18M200.5 174v19M201.5 174v27M202.5 177v25M203.5 178v26M204.5 177v27M205.5 179v18M206.5 182v19M207.5 185v17M208.5 187v15M209.5 187v26M210.5 187v27M211.5 189v25M212.5 189v26M213.5 188v22M214.5 191v18M215.5 193v19M216.5 197v17M217.5 197v18M218.5 196v27M219.5 200v24M220.5 200v24M221.5 201v24M222.5 202v20M223.5 203v19M224.5 205v18M225.5 204v22M226.5 209v20M227.5 209v17M228.5 210v23M229.5 212v21M230.5 212v23M231.5 214v23M232.5 212v24M233.5 213v22M234.5 216v21M235.5 218v21M236.5 221v16M237.5 222v15M238.5 221v25M239.5 223v24M240.5 220v28M241.5 220v21M242.5 222v18M243.5 223v17M244.5 226v18M245.5 225v19M246.5 225v21M247.5 226v16M248.5 227v25M249.5 228v24M250.5 229v24M251.5 230v23M252.5 227v22M253.5 229v19M254.5 230v17M255.5 232v16M256.5 233v23M257.5 230v26M258.5 230v26M259.5 233v25M260.5 229v28M261.5 232v18M262.5 234v17M263.5 235v17M264.5 235v16M265.5 237v17M266.5 237v17M267.5 235v24M268.5 236v23M269.5 236v24M270.5 237v17M271.5 238v18M272.5 238v19M273.5 239v17M274.5 239v18M275.5 242v15M276.5 241v18M277.5 240v26M278.5 240v26M279.5 239v20M280.5 239v20M281.5 241v18M282.5 243v17M283.5 245v16M284.5 244v24M285.5 245v18M286.5 246v25M287.5 244v26M288.5 245v17M289.5 246v19M290.5 245v20M291.5 247v21M292.5 247v20M293.5 250v14M294.5 250v15M296.5 261v13M297.5 258v16M298.5 255v19M299.5 256v18M300.5 259v15M301.5 256v1M302.5 256v1M303.5 256v1M304.5 256v1M305.5 256v1M306.5 256v1M307.5 256v1M308.5 256v1M309.5 256v1M310.5 256v1M311.5 256v1M312.5 256v1M313.5 239v18M314.5 237v20M315.5 234v7M316.5 232v6M317.5 230v6M318.5 228v6M319.5 226v6M320.5 225v5M321.5 223v5M322.5 221v5M323.5 219v5M324.5 217v5M325.5 215v5M326.5 212v6M327.5 209v8M328.5 206v8M329.5 202v8M330.5 199v8M331.5 195v9M332.5 190v11M333.5 186v10M334.5 181v11M335.5 174v13M336.5 168v14M337.5 161v15M338.5 154v15M339.5 148v14M340.5 141v15M341.5 135v14M342.5 129v14M343.5 122v14M344.5 116v14M345.5 110v14M346.5 104v14M347.5 98v14M348.5 91v14M349.5 85v14M350.5 79v14M351.5 71v16M352.5 66v14M353.5 61v12M354.5 59v14M355.5 59v14M356.5 67v4M357.5 67v4M358.5 66v4M359.5 66v4M360.5 65v4M361.5 64v4M362.5 64v4M363.5 63v4M364.5 63v4M365.5 62v4M366.5 62v4M367.5 61v4M368.5 61v4M369.5 60v4M370.5 60v4M371.5 59v4M372.5 59v4M373.5 58v4M374.5 58v4M375.5 58v4M376.5 58v4M377.5 59v4M378.5 59v4M379.5 59v4M380.5 59v4M381.5 60v4M382.5 60v4M383.5 60v4M384.5 60v4M385.5 60v4M386.5 59v21M387.5 59v20M388.5 65v16M389.5 65v26M390.5 66v25M391.5 65v18M392.5 68v23M393.5 69v17M394.5 73v17M395.5 73v20M396.5 75v18M397.5 77v15M398.5 79v15M399.5 81v16M400.5 81v27M401.5 83v27M402.5 84v27M403.5 84v19M404.5 86v19M405.5 90v15M406.5 91v16M407.5 92v17M408.5 94v19M409.5 98v15M410.5 99v15M411.5 98v30M412.5 102v26M413.5 104v24M414.5 104v18M415.5 106v16M416.5 106v20M417.5 108v25M418.5 111v17M419.5 115v13M420.5 115v15M421.5 114v27M422.5 116v26M423.5 120v23M424.5 120v19M425.5 120v19M426.5 122v20M427.5 126v18M428.5 127v20M429.5 127v17M430.5 130v19M431.5 132v16M432.5 132v27M433.5 132v27M434.5 133v27M435.5 137v22M436.5 135v19M437.5 137v20M438.5 139v20M439.5 144v19M440.5 143v18M441.5 146v18M442.5 150v14M443.5 149v24M444.5 151v25M445.5 150v27M446.5 151v21M447.5 154v20M448.5 157v18M449.5 160v19M450.5 161v18M451.5 162v18M452.5 162v28M453.5 163v27M454.5 162v22M455.5 164v21M456.5 166v19M457.5 170v17M458.5 171v19M459.5 173v17M460.5 176v18M461.5 177v14M462.5 177v25M463.5 178v25M464.5 178v18M465.5 180v20M466.5 182v21M467.5 184v16M468.5 186v19M469.5 187v19M470.5 189v18M471.5 191v19M472.5 191v27M473.5 192v28M474.5 193v19M475.5 195v24M476.5 197v24M477.5 199v17M478.5 200v17M479.5 202v19M480.5 204v18M481.5 203v18M482.5 206v16M483.5 208v23M484.5 208v23M485.5 208v24M486.5 209v24M487.5 212v21M488.5 211v17M489.5 213v23M490.5 214v17M491.5 215v17M492.5 215v25M493.5 217v18M494.5 216v27M495.5 217v28M496.5 217v23M497.5 217v23M498.5 220v20M499.5 220v22M500.5 222v20M501.5 223v17M502.5 224v17M503.5 223v28M504.5 224v23M505.5 222v21M506.5 223v24M507.5 226v17M508.5 225v21M509.5 226v19M510.5 230v17M511.5 230v18M512.5 230v23M513.5 230v24M514.5 230v24M515.5 230v23M516.5 230v18M517.5 230v19M518.5 231v20M519.5 232v21M520.5 234v19M521.5 236v17M522.5 235v25M523.5 237v23M524.5 237v23M525.5 234v20M526.5 236v23M527.5 235v21M528.5 237v20M529.5 239v21M530.5 239v18M531.5 238v19M532.5 240v16M533.5 242v15M534.5 241v22M535.5 240v23M536.5 240v24M537.5 240v24M538.5 240v18M539.5 240v20M540.5 240v23M541.5 244v22M542.5 245v19M543.5 245v23M544.5 245v22M545.5 244v24M546.5 245v24M547.5 242v23M548.5 246v17M549.5 246v18M550.5 246v19M551.5 247v17M552.5 250v16M553.5 250v16M554.5 250v23M555.5 249v25"/>
<path stroke="#4daf4a" d="M126.5 61v24M127.5 62v25M128.5 63v24M129.5 62v19M130.5 65v19M131.5 69v16M132.5 71v14M133.5 71v20M134.5 73v18M135.5 74v18M136.5 78v15M137.5 80v20M138.5 81v25M139.5 80v28M140.5 80v21M141.5 83v17M142.5 86v16M143.5 88v18M144.5 89v18M145.5 91v17M146.5 93v15M147.5 95v16M148.5 96v27M149.5 97v27M150.5 98v27M151.5 98v22M152.5 101v19M153.5 104v16M154.5 108v15M155.5 109v15M156.5 109v25M157.5 111v23M158.5 110v19M159.5 110v22M160.5 116v24M161.5 118v14M162.5 118v17M163.5 119v19M164.5 121v17M165.5 122v17M166.5 125v18M167.5 126v18M168.5 127v26M169.5 129v25M170.5 130v25M171.5 128v23M172.5 130v20M173.5 132v21M174.5 135v20M175.5 137v24M176.5 138v19M177.5 139v19M178.5 142v15M179.5 144v14M180.5 143v28M181.5 144v27M182.5 147v24M183.5 149v24M184.5 147v19M185.5 151v21M186.5 153v17M187.5 156v17M188.5 159v14M189.5 159v22M190.5 163v14M191.5 163v16M192.5 163v26M193.5 166v23M194.5 164v21M195.5 166v21M196.5 168v20M197.5 172v15M198.5 174v16M199.5 174v16M200.5 175v16M201.5 176v25M202.5 178v24M203.5 179v24M204.5 178v26M205.5 180v17M206.5 182v19M207.5 185v19M208.5 187v17M209.5 187v25M210.5 186v30M211.5 191v24M212.5 192v24M213.5 188v22M214.5 190v19M215.5 194v18M216.5 197v17M217.5 198v17M218.5 197v26M219.5 200v26M220.5 201v25M221.5 202v23M222.5 201v21M223.5 203v18M224.5 207v15M225.5 207v19M226.5 211v20M227.5 212v15M228.5 209v25M229.5 211v24M230.5 213v22M231.5 215v21M232.5 213v23M233.5 215v20M234.5 217v18M235.5 219v18M236.5 221v18M237.5 221v16M238.5 220v26M239.5 222v25M240.5 222v26M241.5 221v20M242.5 222v20M243.5 223v18M244.5 225v18M245.5 225v18M246.5 226v17M247.5 229v14M248.5 228v25M249.5 227v26M250.5 229v26M251.5 230v23M252.5 228v18M253.5 229v18M254.5 229v18M255.5 232v16M256.5 233v23M257.5 232v23M258.5 232v26M259.5 233v25M260.5 232v24M261.5 232v19M262.5 234v19M263.5 235v18M264.5 235v19M265.5 237v16M266.5 238v15M267.5 236v23M268.5 237v22M269.5 238v24M270.5 237v16M271.5 237v18M272.5 238v18M273.5 239v16M274.5 240v17M275.5 243v13M276.5 243v15M277.5 242v23M278.5 241v24M279.5 240v21M280.5 240v21M281.5 242v18M282.5 244v16M283.5 245v15M284.5 246v21M285.5 247v16M286.5 246v25M287.5 246v24M288.5 245v17M289.5 246v19M290.5 247v17M291.5 248v19M292.5 247v20M293.5 248v16M294.5 250v15M296.5 261v13M297.5 258v16M298.5 255v19M299.5 256v18M300.5 259v15M301.5 262v1M302.5 262v1M303.5 257v1M304.5 257v1M305.5 257v1M306.5 257v1M307.5 257v1M308.5 257v1M309.5 262v1M310.5 262v1M311.5 262v1M312.5 262v1M313.5 238v25M314.5 235v28M315.5 233v6M316.5 231v6M317.5 229v5M318.5 227v5M319.5 225v5M320.5 223v5M321.5 221v5M322.5 219v6M323.5 217v6M324.5 216v5M325.5 213v6M326.5 210v7M327.5 206v8M328.5 203v8M329.5 200v8M330.5 196v9M331.5 191v11M332.5 187v10M333.5 182v11M334.5 176v12M335.5 169v15M336.5 163v15M337.5 156v15M338.5 149v15M339.5 143v14M340.5 137v14M341.5 130v15M342.5 124v14M343.5 118v14M344.5 112v13M345.5 106v13M346.5 99v14M347.5 93v14M348.5 87v14M349.5 81v13M350.5 73v15M351.5 67v15M352.5 62v13M353.5 58v11M354.5 59v14M355.5 59v14M356.5 69v4M357.5 68v4M358.5 68v4M359.5 67v4M360.5 66v5M361.5 66v4M362.5 65v4M363.5 65v4M364.5 64v4M365.5 64v4M366.5 63v4M367.5 63v4M368.5 62v4M369.5 62v4M370.5 61v4M371.5 61v4M372.5 60v4M373.5 59v5M374.5 60v4M375.5 60v4M376.5 60v4M377.5 60v4M378.5 60v4M379.5 60v4M380.5 60v4M381.5 60v5M382.5 61v4M383.5 61v4M384.5 61v4M385.5 61v4M386.5 59v20M387.5 59v19M388.5 65v14M389.5 63v27M390.5 65v26M391.5 64v19M392.5 66v26M393.5 69v17M394.5 72v16M395.5 72v23M396.5 75v19M397.5 77v15M398.5 79v15M399.5 80v19M400.5 80v30M401.5 83v25M402.5 84v26M403.5 85v17M404.5 86v18M405.5 89v17M406.5 91v18M407.5 92v17M408.5 94v19M409.5 98v16M410.5 100v16M411.5 100v29M412.5 102v28M413.5 104v26M414.5 104v20M415.5 106v17M416.5 107v18M417.5 108v24M418.5 111v17M419.5 114v16M420.5 115v16M421.5 115v26M422.5 118v24M423.5 121v21M424.5 121v17M425.5 120v19M426.5 123v18M427.5 126v17M428.5 126v23M429.5 130v17M430.5 131v18M431.5 131v18M432.5 133v28M433.5 135v23M434.5 136v24M435.5 137v25M436.5 136v18M437.5 139v17M438.5 141v16M439.5 144v16M440.5 145v18M441.5 148v17M442.5 150v14M443.5 149v26M444.5 151v26M445.5 150v26M446.5 153v20M447.5 157v19M448.5 158v18M449.5 160v17M450.5 164v15M451.5 164v17M452.5 162v27M453.5 163v27M454.5 164v21M455.5 166v19M456.5 169v16M457.5 170v18M458.5 171v20M459.5 173v15M460.5 176v16M461.5 178v12M462.5 177v25M463.5 179v24M464.5 179v17M465.5 181v17M466.5 184v17M467.5 185v16M468.5 185v19M469.5 189v17M470.5 191v17M471.5 193v16M472.5 192v27M473.5 194v28M474.5 193v19M475.5 196v21M476.5 196v23M477.5 200v16M478.5 201v17M479.5 202v18M480.5 205v18M481.5 206v17M482.5 206v15M483.5 207v22M484.5 209v23M485.5 209v24M486.5 211v21M487.5 212v22M488.5 211v18M489.5 213v23M490.5 213v18M491.5 213v19M492.5 218v21M493.5 219v16M494.5 218v25M495.5 220v24M496.5 219v19M497.5 219v19M498.5 220v19M499.5 222v20M500.5 223v19M501.5 224v17M502.5 224v15M503.5 223v24M504.5 224v24M505.5 223v19M506.5 225v23M507.5 226v18M508.5 227v18M509.5 229v15M510.5 230v16M511.5 230v18M512.5 230v24M513.5 231v23M514.5 232v22M515.5 231v25M516.5 230v21M517.5 231v18M518.5 232v19M519.5 234v17M520.5 235v16M521.5 236v17M522.5 236v24M523.5 236v23M524.5 237v23M525.5 234v20M526.5 236v24M527.5 237v18M528.5 238v17M529.5 238v21M530.5 238v19M531.5 240v19M532.5 240v19M533.5 243v14M534.5 239v24M535.5 240v25M536.5 242v23M537.5 242v22M538.5 240v20M539.5 241v16M540.5 242v18M541.5 245v19M542.5 245v17M543.5 245v23M544.5 245v22M545.5 245v23M546.5 247v20M547.5 244v19M548.5 246v16M549.5 246v17M550.5 248v17M551.5 247v17M552.5 249v17M553.5 250v19M554.5 250v26M555.5 250v24"/>
<path stroke="#a65628" d="M128.5 64v3M129.5 64v3M137.5 84v2M138.5 84v2M145.5 92v3M146.5 92v3M147.5 92v3M147.5 101v4M148.5 101v4M155.5 116v4M162.5 123v3M171.5 134v5M172.5 134v5M173.5 137v4M174.5 137v4M175.5 137v4M178.5 142v4M183.5 157v1M184.5 157v1M186.5 159v1M187.5 159v1M188.5 159v1M190.5 165v5M191.5 165v5M196.5 173v1M197.5 173v1M204.5 179v3M205.5 179v3M206.5 179v3M206.5 183v1M207.5 183v1M214.5 203v2M215.5 203v2M216.5 207v4M224.5 214v4M229.5 211v3M239.5 237v3M240.5 237v3M241.5 237v3M241.5 232v4M242.5 232v4M243.5 232v4M242.5 233v4M243.5 233v4M250.5 242v4M253.5 234v1M261.5 233v1M262.5 233v1M268.5 245v3M269.5 245v3M270.5 245v3M269.5 252v4M270.5 252v4M272.5 252v4M273.5 252v4M281.5 248v3M282.5 248v3M283.5 248v3M283.5 245v1M284.5 245v1M284.5 246v5M285.5 246v5M286.5 246v5M289.5 259v5M290.5 259v5M294.5 256v1M295.5 256v1M398.5 85v1M399.5 85v1M401.5 83v3M402.5 83v3M403.5 83v3M412.5 109v4M414.5 104v1M417.5 120v2M426.5 123v2M429.5 140v3M430.5 140v3M431.5 140v3M431.5 134v5M432.5 134v5M433.5 134v5M452.5 163v5M453.5 163v5M459.5 177v5M460.5 177v5M462.5 197v1M467.5 186v4M468.5 186v4M469.5 186v4M472.5 200v3M486.5 226v2M487.5 226v2M488.5 226v2M488.5 215v1M489.5 215v1M490.5 215v1M498.5 224v3M499.5 224v3M499.5 230v4M500.5 230v4M506.5 244v3M509.5 232v5M510.5 232v5M511.5 232v5M518.5 247v4M519.5 247v4M536.5 248v4M537.5 247v1M538.5 247v1M539.5 247v1M541.5 255v4M542.5 255v4M543.5 255v4M552.5 261v4M553.5 261v4M554.5 252v1"/>
<path stroke="#ff7f00" d="M145.5 94v2M176.5 140v2M177.5 140v2M182.5 159v1M191.5 168v2M197.5 176v1M198.5 176v1M203.5 195v1M220.5 201v2M257.5 247v2M258.5 247v2M266.5 238v2M267.5 238v2M270.5 239v2M400.5 89v1M401.5 89v1M408.5 99v2M418.5 117v2M419.5 117v2M435.5 146v2M436.5 146v2M444.5 153v2M445.5 153v2M456.5 170v2M466.5 191v2M467.5 191v2M484.5 212v1M485.5 212v1M503.5 233v1M504.5 233v1M523.5 241v2M524.5 241v2M525.5 248v1M526.5 248v1M533.5 256v1M534.5 256v1M537.5 248v1M538.5 248v1"/>
<path stroke="#377eb8" d="M175.5 156v1M176.5 156v1M176.5 144v1M177.5 144v1M248.5 247v1M249.5 247v1M282.5 254v2M283.5 254v2M431.5 136v1M438.5 142v1M439.5 142v1M490.5 213v2"/>
<path stroke="#f781bf" d="M137.5 91v2M138.5 91v2M180.5 145v1M240.5 226v2M241.5 226v2M272.5 247v1M273.5 247v1M405.5 95v2M406.5 95v2M485.5 213v2M502.5 225v2"/>
<path stroke="#984ea3" d="M169.5 133v1M170.5 133v1M212.5 202v2M213.5 202v2M266.5 245v1M399.5 81v1M545.5 267v1"/>
<path stroke="#e41a1c" d="M137.5 99v1M193.5 187v2M246.5 241v2M247.5 241v2M249.5 252v1M250.5 252v1M386.5 77v2M516.5 249v2M550.5 263v2"/>
</g>
<g stroke="#000" fill="none" shape-rendering="crispEdges">
<path stroke-width="5.6" d="M340.7 72.2V934.0999999999999M2315.8 72.2V934.0999999999999"/>
<path stroke-width="5.6" d="M337.9 75.0H2318.6000000000004M337.9 931.3H2318.6000000000004"/>
<path stroke-width="6.2" d="M340.7 75.0h-24.5M340.7 160.6h-10.5M340.7 246.3h-24.5M340.7 331.9h-10.5M340.7 417.5h-24.5M340.7 503.1h-10.5M340.7 588.8h-24.5M340.7 674.4h-10.5M340.7 760.0h-24.5M340.7 845.7h-10.5M340.7 931.3h-24.5"/>
<path stroke-width="6.2" d="M340.7 931.3v24.5M481.8 931.3v13.0M622.9 931.3v24.5M763.9 931.3v13.0M905.0 931.3v24.5M1046.1 931.3v13.0M1187.2 931.3v24.5M1328.3 931.3v13.0M1469.3 931.3v24.5M1610.4 931.3v13.0M1751.5 931.3v24.5M1892.6 931.3v13.0M2033.6 931.3v24.5M2174.7 931.3v13.0M2315.8 931.3v24.5"/>
</g>
<g font-family='"Liberation Serif", "DejaVu Serif", serif' font-size="90" fill="#000">
<text transform="translate(296.5 94.0) scale(0.975 1)" text-anchor="end">4.3</text>
<text transform="translate(296.5 265.3) scale(0.975 1)" text-anchor="end">4.1</text>
<text transform="translate(296.5 436.5) scale(0.975 1)" text-anchor="end">3.9</text>
<text transform="translate(296.5 607.8) scale(0.975 1)" text-anchor="end">3.7</text>
<text transform="translate(296.5 779.0) scale(0.975 1)" text-anchor="end">3.5</text>
<text transform="translate(296.5 950.3) scale(0.975 1)" text-anchor="end">3.3</text>
<text x="340.7" y="1036.5" text-anchor="middle">0</text>
<text x="622.9" y="1036.5" text-anchor="middle">4</text>
<text x="905.0" y="1036.5" text-anchor="middle">8</text>
<text x="1187.2" y="1036.5" text-anchor="middle">12</text>
<text x="1469.3" y="1036.5" text-anchor="middle">16</text>
<text x="1751.5" y="1036.5" text-anchor="middle">20</text>
<text x="2033.6" y="1036.5" text-anchor="middle">24</text>
<text x="2315.8" y="1036.5" text-anchor="middle">28</text>
<text x="1327.4" y="1141.3" text-anchor="middle" style="font-kerning:none" letter-spacing="1.25">Time (h)</text>
<text transform="translate(101 482.0) rotate(-90)" text-anchor="middle" style="font-kerning:none" letter-spacing="0.4">Voltage (V)</text>
<text x="41.5" y="135.0" font-size="88" letter-spacing="0.8">(a)</text>
</g>
<g transform="scale(2.7)" fill="none" stroke-width="1.02" shape-rendering="crispEdges">
<path stroke="#f781bf" d="M126.5 475v25M127.5 477v25M128.5 478v24M129.5 477v19M130.5 480v18M131.5 482v19M132.5 484v16M133.5 486v20M134.5 488v18M135.5 489v17M136.5 492v15M137.5 493v22M138.5 494v27M139.5 497v25M140.5 497v20M141.5 497v19M142.5 500v16M143.5 502v20M144.5 503v20M145.5 506v16M146.5 509v14M147.5 511v15M148.5 512v27M149.5 514v26M150.5 515v26M151.5 513v21M152.5 515v19M153.5 518v15M154.5 522v14M155.5 523v14M156.5 524v25M157.5 525v26M158.5 524v22M159.5 526v20M160.5 529v25M161.5 531v15M162.5 533v14M163.5 534v17M164.5 535v16M165.5 537v15M166.5 541v16M167.5 542v16M168.5 543v24M169.5 543v26M170.5 544v25M171.5 544v20M172.5 544v21M173.5 546v21M174.5 550v19M175.5 551v23M176.5 552v18M177.5 554v18M178.5 556v17M179.5 558v15M180.5 557v29M181.5 558v29M182.5 561v26M183.5 563v25M184.5 562v17M185.5 564v23M186.5 567v17M187.5 572v14M188.5 573v13M189.5 572v22M190.5 576v17M191.5 579v16M192.5 579v24M193.5 580v24M194.5 579v22M195.5 581v22M196.5 584v19M197.5 586v14M198.5 587v16M199.5 590v15M200.5 591v15M201.5 591v25M202.5 592v23M203.5 594v23M204.5 593v25M205.5 594v19M206.5 597v19M207.5 600v18M208.5 601v17M209.5 600v28M210.5 601v27M211.5 604v25M212.5 604v25M213.5 603v21M214.5 605v19M215.5 608v19M216.5 612v16M217.5 613v16M218.5 611v25M219.5 613v25M220.5 616v23M221.5 617v23M222.5 617v20M223.5 619v15M224.5 620v17M225.5 621v20M226.5 625v21M227.5 625v18M228.5 625v23M229.5 627v22M230.5 628v22M231.5 630v21M232.5 628v21M233.5 629v19M234.5 631v19M235.5 633v19M236.5 636v17M237.5 637v15M238.5 636v24M239.5 637v26M240.5 637v28M241.5 635v22M242.5 637v17M243.5 639v16M244.5 640v18M245.5 639v19M246.5 641v18M247.5 643v15M248.5 642v26M249.5 643v24M250.5 644v23M251.5 645v23M252.5 643v19M253.5 644v17M254.5 643v19M255.5 646v17M256.5 647v24M257.5 647v26M258.5 646v27M259.5 649v22M260.5 646v24M261.5 647v17M262.5 648v18M263.5 649v19M264.5 650v19M265.5 652v16M266.5 651v16M267.5 650v24M268.5 652v21M269.5 652v21M270.5 650v18M271.5 651v20M272.5 653v18M273.5 654v16M274.5 655v18M275.5 657v16M276.5 657v17M277.5 656v25M278.5 656v24M279.5 655v19M280.5 656v18M281.5 657v18M282.5 660v15M283.5 658v15M284.5 661v19M285.5 662v16M286.5 660v27M287.5 660v26M288.5 661v16M289.5 661v19M290.5 663v16M291.5 664v18M292.5 663v19M293.5 663v19M294.5 664v18M296.5 675v14M297.5 672v17M298.5 669v20M299.5 671v18M300.5 674v15M301.5 671v1M302.5 671v1M303.5 671v1M304.5 671v1M305.5 671v1M306.5 671v1M307.5 671v1M308.5 671v1M309.5 671v1M310.5 671v1M311.5 671v1M312.5 671v1M313.5 654v18M314.5 651v21M315.5 649v6M316.5 646v7M317.5 644v6M318.5 643v5M319.5 641v5M320.5 639v5M321.5 637v5M322.5 635v5M323.5 633v5M324.5 631v5M325.5 629v6M326.5 626v7M327.5 623v8M328.5 620v8M329.5 616v8M330.5 613v8M331.5 608v10M332.5 604v10M333.5 599v11M334.5 594v11M335.5 588v13M336.5 581v15M337.5 574v15M338.5 568v14M339.5 561v15M340.5 555v14M341.5 548v15M342.5 542v14M343.5 536v14M344.5 530v14M345.5 523v14M346.5 517v14M347.5 511v14M348.5 505v14M349.5 499v13M350.5 492v14M351.5 485v15M352.5 480v13M353.5 475v11M354.5 474v14M355.5 474v13M356.5 484v5M357.5 484v4M358.5 483v4M359.5 483v4M360.5 482v4M361.5 482v4M362.5 481v4M363.5 481v4M364.5 480v4M365.5 479v5M366.5 479v4M367.5 478v4M368.5 478v4M369.5 477v4M370.5 477v4M371.5 476v4M372.5 476v4M373.5 475v4M374.5 475v4M375.5 475v4M376.5 475v5M377.5 476v4M378.5 476v4M379.5 476v4M380.5 476v4M381.5 476v4M382.5 476v4M383.5 476v4M384.5 476v4M385.5 476v4M386.5 474v19M387.5 474v17M388.5 479v15M389.5 478v30M390.5 481v26M391.5 480v16M392.5 482v23M393.5 484v17M394.5 487v16M395.5 487v22M396.5 489v19M397.5 491v16M398.5 494v15M399.5 495v17M400.5 495v27M401.5 497v27M402.5 498v28M403.5 500v16M404.5 501v19M405.5 504v16M406.5 506v15M407.5 507v16M408.5 509v17M409.5 512v17M410.5 515v15M411.5 513v30M412.5 515v28M413.5 518v26M414.5 518v21M415.5 521v17M416.5 522v18M417.5 524v24M418.5 526v17M419.5 529v16M420.5 531v16M421.5 532v26M422.5 533v24M423.5 534v24M424.5 534v20M425.5 535v19M426.5 537v19M427.5 540v19M428.5 542v18M429.5 545v13M430.5 547v16M431.5 546v15M432.5 546v26M433.5 549v24M434.5 550v25M435.5 550v25M436.5 550v20M437.5 554v16M438.5 556v15M439.5 559v17M440.5 558v18M441.5 562v18M442.5 565v13M443.5 564v23M444.5 566v23M445.5 565v25M446.5 567v20M447.5 570v19M448.5 572v17M449.5 574v17M450.5 577v17M451.5 578v18M452.5 578v26M453.5 579v25M454.5 579v20M455.5 581v20M456.5 583v18M457.5 584v16M458.5 586v18M459.5 586v18M460.5 589v17M461.5 591v14M462.5 591v26M463.5 593v24M464.5 593v17M465.5 595v19M466.5 597v20M467.5 600v14M468.5 601v16M469.5 603v18M470.5 605v17M471.5 607v16M472.5 607v28M473.5 610v24M474.5 608v18M475.5 610v22M476.5 611v23M477.5 613v17M478.5 616v15M479.5 617v17M480.5 619v16M481.5 619v17M482.5 622v15M483.5 622v22M484.5 622v24M485.5 624v23M486.5 626v21M487.5 627v20M488.5 626v17M489.5 628v22M490.5 628v17M491.5 629v17M492.5 632v20M493.5 633v17M494.5 631v27M495.5 632v26M496.5 631v22M497.5 633v20M498.5 635v17M499.5 635v21M500.5 636v18M501.5 638v17M502.5 639v15M503.5 638v27M504.5 639v26M505.5 638v20M506.5 639v23M507.5 640v17M508.5 642v18M509.5 642v18M510.5 644v17M511.5 645v16M512.5 646v22M513.5 644v24M514.5 646v23M515.5 646v23M516.5 645v19M517.5 646v17M518.5 647v20M519.5 647v19M520.5 650v18M521.5 651v16M522.5 649v25M523.5 650v25M524.5 651v23M525.5 649v20M526.5 649v27M527.5 650v21M528.5 653v18M529.5 653v21M530.5 653v18M531.5 654v17M532.5 655v15M533.5 657v14M534.5 655v22M535.5 655v22M536.5 656v22M537.5 657v21M538.5 655v19M539.5 656v17M540.5 657v21M541.5 660v20M542.5 660v16M543.5 659v24M544.5 660v22M545.5 660v24M546.5 660v24M547.5 658v20M548.5 660v17M549.5 661v19M550.5 663v19M551.5 662v17M552.5 664v17M553.5 664v18M554.5 665v24M555.5 664v25"/>
<path stroke="#984ea3" d="M126.5 476v22M127.5 478v25M128.5 478v25M129.5 477v20M130.5 480v20M131.5 482v19M132.5 484v16M133.5 486v20M134.5 488v18M135.5 490v16M136.5 490v17M137.5 494v22M138.5 495v27M139.5 496v27M140.5 496v22M141.5 497v20M142.5 500v18M143.5 501v22M144.5 502v21M145.5 505v17M146.5 508v15M147.5 511v16M148.5 511v26M149.5 514v26M150.5 515v27M151.5 513v21M152.5 514v20M153.5 519v15M154.5 523v14M155.5 523v14M156.5 524v25M157.5 525v25M158.5 524v20M159.5 526v20M160.5 529v25M161.5 531v16M162.5 533v16M163.5 534v19M164.5 535v19M165.5 536v18M166.5 541v14M167.5 541v16M168.5 543v23M169.5 543v24M170.5 543v27M171.5 542v24M172.5 545v21M173.5 547v19M174.5 550v18M175.5 551v23M176.5 552v19M177.5 553v20M178.5 556v17M179.5 558v15M180.5 558v28M181.5 559v28M182.5 561v26M183.5 563v24M184.5 561v19M185.5 565v23M186.5 568v18M187.5 570v20M188.5 573v17M189.5 574v22M190.5 578v13M191.5 578v16M192.5 578v25M193.5 580v24M194.5 579v19M195.5 581v19M196.5 584v20M197.5 585v18M198.5 586v19M199.5 590v16M200.5 591v15M201.5 591v25M202.5 592v24M203.5 594v24M204.5 594v25M205.5 595v19M206.5 597v20M207.5 600v18M208.5 601v15M209.5 601v26M210.5 602v27M211.5 604v26M212.5 605v24M213.5 604v22M214.5 606v20M215.5 608v19M216.5 612v18M217.5 613v15M218.5 613v23M219.5 614v24M220.5 615v24M221.5 616v24M222.5 616v21M223.5 619v17M224.5 619v17M225.5 622v18M226.5 625v19M227.5 626v15M228.5 626v22M229.5 627v22M230.5 629v21M231.5 631v21M232.5 627v22M233.5 628v20M234.5 631v19M235.5 633v19M236.5 637v16M237.5 638v15M238.5 636v24M239.5 637v24M240.5 637v26M241.5 636v19M242.5 637v16M243.5 638v16M244.5 641v19M245.5 642v16M246.5 642v17M247.5 643v15M248.5 642v26M249.5 643v26M250.5 643v25M251.5 644v23M252.5 643v20M253.5 644v19M254.5 644v18M255.5 645v16M256.5 646v23M257.5 647v24M258.5 646v24M259.5 647v23M260.5 646v24M261.5 647v17M262.5 648v18M263.5 650v16M264.5 650v17M265.5 651v17M266.5 653v14M267.5 652v20M268.5 652v20M269.5 652v22M270.5 650v18M271.5 651v19M272.5 653v18M273.5 655v15M274.5 654v16M275.5 656v15M276.5 658v16M277.5 656v25M278.5 655v25M279.5 655v19M280.5 656v18M281.5 656v19M282.5 657v18M283.5 659v16M284.5 661v21M285.5 662v15M286.5 660v25M287.5 661v24M288.5 660v18M289.5 660v21M290.5 662v17M291.5 662v19M292.5 663v18M293.5 664v15M294.5 665v14M296.5 675v14M297.5 672v17M298.5 669v20M299.5 671v18M300.5 674v15M301.5 670v1M302.5 670v1M303.5 670v1M304.5 670v1M305.5 670v1M306.5 670v1M307.5 670v1M308.5 670v1M309.5 670v1M310.5 670v1M311.5 670v1M312.5 670v1M313.5 651v20M314.5 648v23M315.5 646v6M316.5 644v6M317.5 642v6M318.5 640v6M319.5 639v5M320.5 637v5M321.5 635v5M322.5 633v5M323.5 631v5M324.5 629v5M325.5 626v7M326.5 623v7M327.5 619v8M328.5 616v8M329.5 612v9M330.5 608v10M331.5 603v11M332.5 599v10M333.5 594v11M334.5 587v13M335.5 580v15M336.5 574v14M337.5 567v15M338.5 560v15M339.5 554v14M340.5 548v14M341.5 541v15M342.5 535v14M343.5 529v14M344.5 523v14M345.5 517v13M346.5 510v14M347.5 504v14M348.5 498v14M349.5 491v14M350.5 484v16M351.5 479v14M352.5 474v12M353.5 472v9M354.5 474v14M355.5 474v13M356.5 485v4M357.5 484v4M358.5 484v4M359.5 483v4M360.5 483v4M361.5 482v4M362.5 481v5M363.5 481v4M364.5 480v4M365.5 480v4M366.5 479v4M367.5 479v4M368.5 478v4M369.5 478v4M370.5 477v4M371.5 477v4M372.5 476v4M373.5 476v4M374.5 476v4M375.5 476v4M376.5 476v4M377.5 476v4M378.5 476v4M379.5 476v4M380.5 476v4M381.5 476v4M382.5 476v4M383.5 476v4M384.5 476v4M385.5 476v4M386.5 474v19M387.5 474v20M388.5 481v15M389.5 478v28M390.5 480v26M391.5 481v16M392.5 483v22M393.5 484v17M394.5 487v16M395.5 488v21M396.5 489v19M397.5 490v17M398.5 493v15M399.5 496v15M400.5 495v28M401.5 496v28M402.5 498v27M403.5 500v16M404.5 501v19M405.5 504v17M406.5 506v17M407.5 507v18M408.5 510v17M409.5 513v14M410.5 515v13M411.5 514v28M412.5 517v26M413.5 517v27M414.5 517v21M415.5 521v17M416.5 522v18M417.5 524v24M418.5 526v19M419.5 529v16M420.5 530v13M421.5 531v23M422.5 534v23M423.5 534v23M424.5 535v18M425.5 536v18M426.5 538v18M427.5 539v19M428.5 541v21M429.5 543v16M430.5 545v18M431.5 546v15M432.5 547v25M433.5 549v23M434.5 548v25M435.5 550v27M436.5 551v20M437.5 554v17M438.5 556v17M439.5 558v18M440.5 559v17M441.5 563v15M442.5 565v14M443.5 564v24M444.5 568v21M445.5 567v23M446.5 568v19M447.5 571v16M448.5 572v16M449.5 574v19M450.5 577v17M451.5 579v15M452.5 578v27M453.5 579v26M454.5 579v19M455.5 582v16M456.5 582v17M457.5 583v17M458.5 586v17M459.5 588v16M460.5 591v16M461.5 593v13M462.5 590v29M463.5 591v28M464.5 594v17M465.5 596v16M466.5 598v18M467.5 600v16M468.5 601v19M469.5 603v20M470.5 605v18M471.5 607v18M472.5 607v25M473.5 609v25M474.5 609v18M475.5 610v22M476.5 612v22M477.5 615v16M478.5 616v16M479.5 617v18M480.5 619v16M481.5 620v18M482.5 622v16M483.5 622v24M484.5 622v25M485.5 624v22M486.5 625v22M487.5 626v21M488.5 626v17M489.5 628v23M490.5 629v16M491.5 630v15M492.5 632v22M493.5 633v19M494.5 632v27M495.5 634v25M496.5 633v19M497.5 633v20M498.5 634v21M499.5 636v21M500.5 638v16M501.5 640v15M502.5 640v14M503.5 639v24M504.5 640v24M505.5 638v19M506.5 640v21M507.5 640v18M508.5 640v21M509.5 642v17M510.5 643v18M511.5 644v19M512.5 645v25M513.5 645v23M514.5 645v24M515.5 646v23M516.5 645v19M517.5 646v19M518.5 647v18M519.5 648v17M520.5 651v15M521.5 651v15M522.5 650v23M523.5 651v25M524.5 651v24M525.5 649v22M526.5 651v25M527.5 651v19M528.5 653v18M529.5 653v21M530.5 652v20M531.5 654v18M532.5 656v15M533.5 657v15M534.5 656v22M535.5 655v23M536.5 655v23M537.5 656v21M538.5 653v23M539.5 654v20M540.5 655v22M541.5 659v21M542.5 661v17M543.5 659v26M544.5 659v25M545.5 659v23M546.5 661v22M547.5 659v20M548.5 661v17M549.5 661v17M550.5 663v17M551.5 663v16M552.5 665v15M553.5 665v17M554.5 665v24M555.5 664v25"/>
<path stroke="#377eb8" d="M126.5 474v26M127.5 476v25M128.5 479v22M129.5 478v20M130.5 480v19M131.5 484v18M132.5 485v15M133.5 487v19M134.5 488v18M135.5 489v17M136.5 492v15M137.5 493v22M138.5 494v28M139.5 496v26M140.5 494v22M141.5 496v19M142.5 501v14M143.5 503v16M144.5 504v18M145.5 505v18M146.5 508v16M147.5 510v18M148.5 510v28M149.5 513v27M150.5 512v30M151.5 512v24M152.5 516v18M153.5 517v17M154.5 522v15M155.5 524v14M156.5 525v24M157.5 525v25M158.5 523v21M159.5 525v21M160.5 529v25M161.5 530v17M162.5 531v17M163.5 532v20M164.5 536v15M165.5 537v17M166.5 541v15M167.5 541v15M168.5 541v25M169.5 544v24M170.5 544v24M171.5 543v21M172.5 545v19M173.5 547v20M174.5 549v20M175.5 551v22M176.5 551v20M177.5 553v20M178.5 556v17M179.5 558v16M180.5 557v30M181.5 558v28M182.5 562v26M183.5 564v25M184.5 563v19M185.5 565v21M186.5 567v21M187.5 570v20M188.5 573v15M189.5 574v22M190.5 577v15M191.5 578v17M192.5 580v24M193.5 581v23M194.5 580v20M195.5 582v20M196.5 584v19M197.5 586v16M198.5 587v18M199.5 590v15M200.5 590v15M201.5 591v25M202.5 592v24M203.5 593v25M204.5 594v22M205.5 595v16M206.5 597v19M207.5 599v17M208.5 600v16M209.5 601v27M210.5 601v27M211.5 603v26M212.5 605v24M213.5 604v20M214.5 607v17M215.5 610v17M216.5 612v16M217.5 613v16M218.5 612v26M219.5 615v23M220.5 616v23M221.5 617v23M222.5 616v20M223.5 619v16M224.5 621v15M225.5 621v19M226.5 625v19M227.5 625v16M228.5 625v23M229.5 627v22M230.5 628v22M231.5 628v23M232.5 628v21M233.5 630v18M234.5 631v18M235.5 633v21M236.5 636v18M237.5 637v15M238.5 636v26M239.5 637v26M240.5 637v25M241.5 636v19M242.5 637v19M243.5 638v19M244.5 640v20M245.5 640v18M246.5 642v17M247.5 642v16M248.5 641v26M249.5 643v25M250.5 643v26M251.5 644v26M252.5 642v21M253.5 644v17M254.5 644v18M255.5 647v16M256.5 647v23M257.5 647v24M258.5 646v26M259.5 646v25M260.5 644v26M261.5 646v19M262.5 648v19M263.5 649v17M264.5 650v17M265.5 652v16M266.5 652v15M267.5 651v21M268.5 652v21M269.5 652v24M270.5 651v16M271.5 652v18M272.5 653v18M273.5 654v16M274.5 654v16M275.5 657v13M276.5 657v17M277.5 656v25M278.5 657v22M279.5 656v16M280.5 656v17M281.5 657v18M282.5 657v18M283.5 660v14M284.5 662v19M285.5 662v15M286.5 660v25M287.5 661v23M288.5 660v17M289.5 659v21M290.5 661v18M291.5 664v17M292.5 664v17M293.5 664v16M294.5 665v16M296.5 675v14M297.5 672v17M298.5 669v20M299.5 671v18M300.5 674v15M301.5 676v1M302.5 676v1M303.5 676v1M304.5 676v1M305.5 676v1M306.5 676v1M307.5 676v1M308.5 676v1M309.5 676v1M310.5 676v1M311.5 676v1M312.5 676v1M313.5 653v24M314.5 651v26M315.5 648v7M316.5 646v6M317.5 644v6M318.5 642v5M319.5 640v6M320.5 638v6M321.5 637v5M322.5 635v5M323.5 633v5M324.5 631v5M325.5 629v5M326.5 626v6M327.5 622v8M328.5 619v8M329.5 616v8M330.5 612v9M331.5 608v9M332.5 603v11M333.5 598v11M334.5 593v11M335.5 586v14M336.5 580v15M337.5 573v15M338.5 566v15M339.5 560v15M340.5 554v14M341.5 547v14M342.5 541v14M343.5 535v14M344.5 528v14M345.5 522v14M346.5 516v14M347.5 510v14M348.5 504v14M349.5 498v13M350.5 491v14M351.5 484v15M352.5 479v13M353.5 474v11M354.5 474v14M355.5 474v13M356.5 484v4M357.5 483v4M358.5 483v4M359.5 482v4M360.5 481v4M361.5 481v4M362.5 480v4M363.5 480v4M364.5 479v4M365.5 479v4M366.5 478v4M367.5 478v4M368.5 477v4M369.5 477v4M370.5 476v4M371.5 475v5M372.5 475v4M373.5 474v4M374.5 475v4M375.5 475v4M376.5 475v4M377.5 475v4M378.5 475v4M379.5 475v4M380.5 475v4M381.5 475v4M382.5 475v4M383.5 475v5M384.5 476v4M385.5 476v4M386.5 474v20M387.5 474v19M388.5 480v15M389.5 479v26M390.5 481v27M391.5 480v17M392.5 482v23M393.5 484v17M394.5 486v17M395.5 486v23M396.5 490v18M397.5 492v15M398.5 494v15M399.5 496v16M400.5 496v28M401.5 498v27M402.5 499v26M403.5 500v17M404.5 501v19M405.5 504v16M406.5 506v16M407.5 505v19M408.5 508v18M409.5 513v15M410.5 515v14M411.5 514v28M412.5 516v28M413.5 518v27M414.5 517v21M415.5 521v17M416.5 523v17M417.5 524v24M418.5 525v18M419.5 528v16M420.5 530v17M421.5 530v28M422.5 533v26M423.5 534v25M424.5 535v19M425.5 537v15M426.5 538v17M427.5 540v18M428.5 542v20M429.5 544v17M430.5 545v20M431.5 546v15M432.5 548v27M433.5 550v24M434.5 551v26M435.5 551v26M436.5 552v17M437.5 554v17M438.5 556v19M439.5 558v20M440.5 559v18M441.5 563v17M442.5 563v15M443.5 562v26M444.5 566v22M445.5 565v24M446.5 568v19M447.5 571v18M448.5 572v19M449.5 574v19M450.5 576v16M451.5 577v17M452.5 578v26M453.5 579v25M454.5 579v22M455.5 581v17M456.5 583v15M457.5 585v15M458.5 586v18M459.5 588v16M460.5 589v18M461.5 591v16M462.5 591v28M463.5 592v28M464.5 593v18M465.5 595v17M466.5 598v17M467.5 600v16M468.5 600v19M469.5 602v20M470.5 606v18M471.5 608v18M472.5 608v26M473.5 608v28M474.5 608v20M475.5 610v22M476.5 612v22M477.5 615v16M478.5 616v16M479.5 617v18M480.5 620v16M481.5 621v15M482.5 623v14M483.5 623v22M484.5 624v21M485.5 622v24M486.5 624v23M487.5 626v21M488.5 627v16M489.5 629v22M490.5 628v17M491.5 629v17M492.5 632v20M493.5 634v16M494.5 632v25M495.5 634v23M496.5 633v19M497.5 633v19M498.5 634v19M499.5 636v19M500.5 638v17M501.5 637v21M502.5 640v16M503.5 639v24M504.5 640v22M505.5 638v21M506.5 640v22M507.5 640v17M508.5 642v20M509.5 643v18M510.5 644v18M511.5 644v17M512.5 644v24M513.5 643v25M514.5 644v25M515.5 645v24M516.5 645v19M517.5 646v17M518.5 647v19M519.5 648v18M520.5 649v16M521.5 651v16M522.5 650v25M523.5 649v26M524.5 652v22M525.5 650v19M526.5 651v24M527.5 651v19M528.5 653v17M529.5 653v21M530.5 653v19M531.5 653v19M532.5 654v17M533.5 655v19M534.5 654v25M535.5 654v24M536.5 656v23M537.5 656v23M538.5 655v21M539.5 655v17M540.5 657v21M541.5 659v18M542.5 661v14M543.5 660v23M544.5 659v23M545.5 659v23M546.5 661v22M547.5 659v20M548.5 661v17M549.5 661v17M550.5 662v18M551.5 662v17M552.5 664v17M553.5 663v19M554.5 663v28M555.5 664v25"/>
<path stroke="#e41a1c" d="M126.5 474v26M127.5 477v25M128.5 477v25M129.5 476v21M130.5 480v19M131.5 483v19M132.5 485v17M133.5 487v21M134.5 489v18M135.5 490v19M136.5 492v18M137.5 494v23M138.5 496v28M139.5 498v26M140.5 496v21M141.5 498v19M142.5 502v17M143.5 503v21M144.5 505v19M145.5 508v17M146.5 511v15M147.5 514v16M148.5 514v28M149.5 517v25M150.5 518v26M151.5 516v22M152.5 518v20M153.5 521v17M154.5 526v15M155.5 526v17M156.5 528v25M157.5 529v25M158.5 528v21M159.5 530v20M160.5 533v26M161.5 535v18M162.5 537v17M163.5 538v19M164.5 538v18M165.5 541v18M166.5 544v16M167.5 544v17M168.5 546v26M169.5 548v24M170.5 548v25M171.5 548v20M172.5 550v20M173.5 552v20M174.5 554v19M175.5 556v23M176.5 557v17M177.5 558v19M178.5 560v17M179.5 563v15M180.5 563v28M181.5 564v27M182.5 566v25M183.5 568v25M184.5 566v19M185.5 570v23M186.5 573v19M187.5 575v18M188.5 577v18M189.5 578v21M190.5 582v13M191.5 584v15M192.5 584v25M193.5 585v25M194.5 585v20M195.5 587v20M196.5 588v20M197.5 591v14M198.5 591v20M199.5 595v16M200.5 595v17M201.5 596v27M202.5 597v25M203.5 599v24M204.5 598v24M205.5 600v17M206.5 602v21M207.5 605v16M208.5 606v15M209.5 606v27M210.5 607v29M211.5 610v27M212.5 611v24M213.5 608v22M214.5 611v18M215.5 614v19M216.5 617v18M217.5 619v16M218.5 618v25M219.5 620v23M220.5 619v25M221.5 620v26M222.5 620v23M223.5 624v17M224.5 626v16M225.5 627v20M226.5 630v22M227.5 631v16M228.5 630v26M229.5 632v22M230.5 632v24M231.5 634v24M232.5 633v21M233.5 635v18M234.5 637v18M235.5 638v19M236.5 641v16M237.5 642v15M238.5 641v26M239.5 642v27M240.5 642v28M241.5 641v20M242.5 643v17M243.5 644v16M244.5 646v17M245.5 647v17M246.5 649v17M247.5 648v17M248.5 647v26M249.5 648v25M250.5 648v28M251.5 650v25M252.5 649v20M253.5 650v20M254.5 651v18M255.5 653v17M256.5 654v24M257.5 652v25M258.5 652v25M259.5 654v24M260.5 652v25M261.5 653v18M262.5 655v18M263.5 656v17M264.5 655v19M265.5 657v18M266.5 659v15M267.5 657v23M268.5 658v23M269.5 660v22M270.5 659v17M271.5 659v20M272.5 660v19M273.5 661v17M274.5 662v17M275.5 664v16M276.5 665v18M277.5 664v26M278.5 664v24M279.5 664v17M280.5 665v16M281.5 666v17M282.5 667v17M283.5 668v15M284.5 669v22M285.5 671v16M286.5 670v25M287.5 671v23M288.5 670v19M289.5 670v22M290.5 672v17M291.5 673v19M292.5 674v19M293.5 674v18M294.5 675v16M296.5 688v12M297.5 685v15M298.5 682v18M299.5 684v16M300.5 687v13M301.5 687v2M302.5 687v2M303.5 687v2M304.5 687v2M305.5 687v2M306.5 687v2M307.5 687v2M308.5 687v2M309.5 687v2M310.5 687v2M311.5 687v2M312.5 687v2M313.5 687v2M314.5 687v2M315.5 656v33M316.5 655v3M317.5 654v3M318.5 652v4M319.5 650v5M320.5 649v4M321.5 647v5M322.5 646v4M323.5 644v5M324.5 643v4M325.5 641v5M326.5 639v5M327.5 637v5M328.5 635v6M329.5 633v5M330.5 631v5M331.5 628v6M332.5 625v7M333.5 621v8M334.5 616v10M335.5 611v12M336.5 606v12M337.5 600v12M338.5 593v14M339.5 586v15M340.5 580v15M341.5 574v14M342.5 568v13M343.5 563v12M344.5 558v12M345.5 552v13M346.5 546v13M347.5 541v13M348.5 535v13M349.5 529v13M350.5 524v13M351.5 518v13M352.5 510v15M353.5 507v12M354.5 507v11M355.5 507v12M356.5 516v2M357.5 515v3M358.5 515v3M359.5 514v3M360.5 514v3M361.5 513v3M362.5 513v3M363.5 513v2M364.5 512v3M365.5 512v3M366.5 511v3M367.5 511v3M368.5 511v2M369.5 510v3M370.5 510v3M371.5 509v3M372.5 509v3M373.5 509v3M374.5 509v3M375.5 509v3M376.5 510v2M377.5 510v3M378.5 510v3M379.5 511v2M380.5 511v3M381.5 511v3M382.5 511v3M383.5 511v3M384.5 511v3M385.5 511v3M386.5 511v22M387.5 511v21M388.5 517v15M389.5 516v26M390.5 517v27M391.5 517v19M392.5 519v25M393.5 520v18M394.5 523v16M395.5 524v23M396.5 526v20M397.5 527v19M398.5 529v17M399.5 532v17M400.5 532v27M401.5 534v26M402.5 534v28M403.5 536v18M404.5 537v21M405.5 540v17M406.5 541v19M407.5 543v18M408.5 546v18M409.5 550v16M410.5 551v16M411.5 550v30M412.5 551v29M413.5 554v27M414.5 554v21M415.5 557v18M416.5 558v21M417.5 560v26M418.5 562v18M419.5 565v15M420.5 566v16M421.5 567v26M422.5 569v25M423.5 570v25M424.5 570v21M425.5 572v20M426.5 573v21M427.5 577v21M428.5 579v22M429.5 581v15M430.5 584v17M431.5 585v16M432.5 585v27M433.5 587v25M434.5 588v26M435.5 590v24M436.5 590v18M437.5 592v19M438.5 594v18M439.5 598v18M440.5 600v18M441.5 602v18M442.5 604v16M443.5 604v25M444.5 607v22M445.5 606v24M446.5 608v19M447.5 611v18M448.5 612v19M449.5 615v18M450.5 617v15M451.5 619v17M452.5 619v27M453.5 620v26M454.5 620v21M455.5 621v20M456.5 623v17M457.5 626v16M458.5 627v18M459.5 628v18M460.5 630v17M461.5 632v13M462.5 631v27M463.5 632v25M464.5 630v20M465.5 633v17M466.5 635v18M467.5 636v16M468.5 636v18M469.5 637v19M470.5 638v19M471.5 640v17M472.5 640v28M473.5 641v27M474.5 640v21M475.5 642v24M476.5 642v25M477.5 644v19M478.5 643v18M479.5 644v19M480.5 642v21M481.5 642v20M482.5 644v19M483.5 644v25M484.5 645v24M485.5 645v24M486.5 645v24M487.5 645v25M488.5 646v19M489.5 647v24M490.5 647v18M491.5 648v18M492.5 650v22M493.5 651v17M494.5 650v28M495.5 651v27M496.5 650v21M497.5 651v20M498.5 653v17M499.5 653v18M500.5 654v19M501.5 655v19M502.5 656v16M503.5 655v25M504.5 656v25M505.5 655v20M506.5 656v24M507.5 657v17M508.5 659v20M509.5 661v17M510.5 662v18M511.5 663v17M512.5 663v24M513.5 663v24M514.5 663v25M515.5 664v26M516.5 662v23M517.5 665v17M518.5 666v19M519.5 667v18M520.5 669v18M521.5 670v18M522.5 669v25M523.5 669v26M524.5 672v22M525.5 670v21M526.5 672v23M527.5 673v18M528.5 673v21M529.5 674v24M530.5 674v21M531.5 676v21M532.5 680v17M533.5 681v16M534.5 681v22M535.5 682v22M536.5 681v24M537.5 682v24M538.5 681v22M539.5 682v20M540.5 685v20M541.5 688v20M542.5 689v17M543.5 689v24M544.5 690v23M545.5 690v24M546.5 691v24M547.5 690v21M548.5 692v19M549.5 693v20M550.5 695v20M551.5 696v17M552.5 698v17M553.5 699v18M554.5 698v25M555.5 697v26"/>
<path stroke="#ff7f00" d="M126.5 476v22M127.5 477v24M128.5 478v23M129.5 477v19M130.5 480v19M131.5 483v18M132.5 485v15M133.5 486v21M134.5 488v19M135.5 488v17M136.5 492v15M137.5 493v23M138.5 494v27M139.5 496v28M140.5 496v18M141.5 498v15M142.5 500v18M143.5 502v21M144.5 503v20M145.5 505v17M146.5 508v14M147.5 511v16M148.5 511v28M149.5 513v26M150.5 514v25M151.5 512v23M152.5 514v19M153.5 518v15M154.5 522v14M155.5 523v14M156.5 524v24M157.5 525v25M158.5 524v20M159.5 526v22M160.5 529v27M161.5 531v18M162.5 532v18M163.5 532v19M164.5 535v16M165.5 537v16M166.5 540v15M167.5 542v15M168.5 542v25M169.5 543v25M170.5 544v26M171.5 543v21M172.5 546v19M173.5 548v20M174.5 551v18M175.5 551v24M176.5 552v18M177.5 554v20M178.5 556v16M179.5 558v15M180.5 558v28M181.5 559v28M182.5 561v26M183.5 562v26M184.5 560v20M185.5 565v23M186.5 568v18M187.5 570v18M188.5 573v16M189.5 574v23M190.5 577v15M191.5 578v16M192.5 579v24M193.5 580v24M194.5 578v23M195.5 581v22M196.5 583v20M197.5 586v16M198.5 586v19M199.5 592v11M200.5 592v12M201.5 591v25M202.5 591v26M203.5 595v23M204.5 592v25M205.5 594v18M206.5 596v20M207.5 599v17M208.5 601v15M209.5 601v27M210.5 602v26M211.5 603v26M212.5 604v25M213.5 605v21M214.5 607v18M215.5 608v20M216.5 611v17M217.5 613v16M218.5 612v26M219.5 614v24M220.5 615v25M221.5 616v25M222.5 616v21M223.5 619v16M224.5 620v16M225.5 622v17M226.5 625v19M227.5 626v15M228.5 625v23M229.5 627v22M230.5 628v24M231.5 630v21M232.5 628v22M233.5 629v20M234.5 631v18M235.5 634v18M236.5 636v16M237.5 637v15M238.5 634v26M239.5 636v26M240.5 638v26M241.5 637v20M242.5 637v18M243.5 638v18M244.5 640v18M245.5 641v17M246.5 641v18M247.5 642v16M248.5 642v26M249.5 643v25M250.5 643v25M251.5 644v24M252.5 643v19M253.5 644v17M254.5 643v18M255.5 645v17M256.5 646v25M257.5 646v25M258.5 646v25M259.5 647v24M260.5 646v25M261.5 646v19M262.5 648v17M263.5 649v17M264.5 650v17M265.5 653v15M266.5 653v15M267.5 651v24M268.5 652v23M269.5 652v22M270.5 651v17M271.5 652v18M272.5 652v19M273.5 655v15M274.5 654v17M275.5 655v17M276.5 656v18M277.5 656v25M278.5 656v24M279.5 655v18M280.5 656v18M281.5 656v20M282.5 658v19M283.5 659v16M284.5 662v20M285.5 662v16M286.5 660v25M287.5 661v23M288.5 659v18M289.5 659v21M290.5 662v17M291.5 663v17M292.5 663v17M293.5 663v16M294.5 665v15M296.5 675v14M297.5 672v17M298.5 669v20M299.5 671v18M300.5 674v15M301.5 677v1M302.5 677v1M303.5 677v1M304.5 677v1M305.5 677v1M306.5 677v1M307.5 677v1M308.5 677v1M309.5 677v1M310.5 677v1M311.5 677v1M312.5 677v1M313.5 651v27M314.5 649v29M315.5 646v7M316.5 645v5M317.5 643v5M318.5 641v5M319.5 639v5M320.5 637v5M321.5 635v5M322.5 633v6M323.5 631v6M324.5 630v5M325.5 626v7M326.5 623v8M327.5 620v8M328.5 617v8M329.5 613v8M330.5 609v9M331.5 604v11M332.5 600v10M333.5 595v11M334.5 588v13M335.5 582v14M336.5 575v15M337.5 568v15M338.5 562v14M339.5 555v15M340.5 549v14M341.5 543v14M342.5 536v14M343.5 530v14M344.5 524v14M345.5 518v14M346.5 511v14M347.5 505v14M348.5 499v14M349.5 493v14M350.5 485v16M351.5 480v14M352.5 475v12M353.5 472v10M354.5 474v14M355.5 474v13M356.5 484v4M357.5 484v4M358.5 483v4M359.5 482v4M360.5 482v4M361.5 481v4M362.5 481v4M363.5 480v4M364.5 480v4M365.5 479v4M366.5 479v4M367.5 478v4M368.5 477v5M369.5 477v4M370.5 476v4M371.5 476v4M372.5 475v4M373.5 475v4M374.5 475v4M375.5 475v4M376.5 475v4M377.5 475v4M378.5 475v4M379.5 475v4M380.5 475v4M381.5 475v5M382.5 476v4M383.5 476v4M384.5 476v4M385.5 476v4M386.5 474v21M387.5 474v20M388.5 480v15M389.5 479v28M390.5 481v26M391.5 479v19M392.5 483v23M393.5 485v16M394.5 487v16M395.5 488v21M396.5 490v18M397.5 491v16M398.5 493v16M399.5 496v16M400.5 496v26M401.5 497v26M402.5 498v27M403.5 500v16M404.5 500v22M405.5 503v18M406.5 506v16M407.5 508v18M408.5 510v18M409.5 513v15M410.5 516v13M411.5 515v27M412.5 517v27M413.5 519v27M414.5 520v20M415.5 522v18M416.5 523v19M417.5 524v24M418.5 526v17M419.5 529v14M420.5 528v17M421.5 530v26M422.5 532v25M423.5 534v24M424.5 535v19M425.5 537v17M426.5 538v17M427.5 540v20M428.5 542v21M429.5 544v15M430.5 547v16M431.5 547v15M432.5 547v26M433.5 549v24M434.5 550v25M435.5 552v23M436.5 552v17M437.5 554v17M438.5 556v17M439.5 559v18M440.5 560v17M441.5 564v15M442.5 566v13M443.5 564v24M444.5 566v22M445.5 564v25M446.5 568v19M447.5 570v19M448.5 572v17M449.5 574v17M450.5 577v15M451.5 579v15M452.5 578v26M453.5 579v27M454.5 579v22M455.5 581v17M456.5 582v16M457.5 584v16M458.5 586v18M459.5 589v16M460.5 592v17M461.5 592v15M462.5 592v26M463.5 593v25M464.5 593v18M465.5 595v17M466.5 598v19M467.5 600v17M468.5 601v17M469.5 602v19M470.5 605v17M471.5 606v17M472.5 606v28M473.5 607v29M474.5 607v19M475.5 610v21M476.5 611v25M477.5 616v17M478.5 617v15M479.5 616v19M480.5 618v18M481.5 620v18M482.5 622v17M483.5 623v23M484.5 623v24M485.5 625v21M486.5 625v22M487.5 626v21M488.5 626v17M489.5 628v23M490.5 627v18M491.5 628v18M492.5 632v20M493.5 633v17M494.5 632v26M495.5 634v24M496.5 634v18M497.5 633v21M498.5 634v18M499.5 635v19M500.5 638v17M501.5 640v15M502.5 640v13M503.5 638v24M504.5 639v24M505.5 638v19M506.5 639v22M507.5 640v17M508.5 641v19M509.5 642v18M510.5 645v16M511.5 645v16M512.5 645v23M513.5 645v23M514.5 645v22M515.5 646v22M516.5 645v19M517.5 646v17M518.5 647v20M519.5 648v19M520.5 650v16M521.5 651v18M522.5 650v25M523.5 649v28M524.5 652v24M525.5 649v20M526.5 651v24M527.5 651v19M528.5 653v18M529.5 653v21M530.5 653v19M531.5 654v18M532.5 656v15M533.5 655v17M534.5 654v24M535.5 655v23M536.5 656v22M537.5 656v22M538.5 654v20M539.5 655v18M540.5 657v19M541.5 660v19M542.5 661v15M543.5 660v23M544.5 661v20M545.5 660v22M546.5 661v22M547.5 657v22M548.5 659v19M549.5 661v17M550.5 664v15M551.5 664v15M552.5 666v14M553.5 665v17M554.5 665v24M555.5 665v23"/>
<path stroke="#a65628" d="M126.5 475v24M127.5 477v24M128.5 478v23M129.5 475v21M130.5 479v19M131.5 481v19M132.5 484v16M133.5 486v20M134.5 487v19M135.5 487v21M136.5 491v17M137.5 493v23M138.5 494v29M139.5 495v29M140.5 494v21M141.5 495v19M142.5 498v18M143.5 502v18M144.5 503v18M145.5 505v17M146.5 509v13M147.5 511v17M148.5 508v29M149.5 512v25M150.5 514v26M151.5 512v22M152.5 514v20M153.5 518v16M154.5 522v15M155.5 521v16M156.5 524v25M157.5 525v26M158.5 524v20M159.5 525v20M160.5 528v26M161.5 531v16M162.5 533v15M163.5 532v18M164.5 534v17M165.5 535v19M166.5 539v15M167.5 541v15M168.5 542v25M169.5 541v26M170.5 542v26M171.5 543v21M172.5 545v19M173.5 547v21M174.5 548v23M175.5 551v25M176.5 551v21M177.5 553v21M178.5 554v19M179.5 556v17M180.5 558v28M181.5 559v28M182.5 561v28M183.5 561v29M184.5 560v20M185.5 564v25M186.5 567v20M187.5 570v18M188.5 572v16M189.5 572v24M190.5 576v16M191.5 579v15M192.5 579v24M193.5 579v25M194.5 578v22M195.5 582v20M196.5 584v19M197.5 586v16M198.5 587v18M199.5 589v18M200.5 589v18M201.5 589v27M202.5 592v24M203.5 593v26M204.5 592v26M205.5 594v18M206.5 597v18M207.5 600v17M208.5 601v16M209.5 601v27M210.5 602v26M211.5 604v25M212.5 603v27M213.5 603v22M214.5 605v19M215.5 608v19M216.5 612v16M217.5 611v18M218.5 610v28M219.5 614v24M220.5 614v25M221.5 615v25M222.5 616v20M223.5 618v19M224.5 620v18M225.5 619v21M226.5 623v21M227.5 624v16M228.5 625v22M229.5 627v21M230.5 627v23M231.5 629v22M232.5 627v23M233.5 627v22M234.5 631v21M235.5 632v22M236.5 635v17M237.5 636v16M238.5 636v24M239.5 637v24M240.5 635v28M241.5 635v21M242.5 636v18M243.5 638v17M244.5 640v18M245.5 640v18M246.5 640v21M247.5 641v16M248.5 642v25M249.5 643v24M250.5 643v25M251.5 644v24M252.5 642v21M253.5 643v20M254.5 644v18M255.5 647v16M256.5 647v24M257.5 645v26M258.5 644v27M259.5 647v26M260.5 644v28M261.5 647v17M262.5 648v17M263.5 649v17M264.5 650v16M265.5 652v17M266.5 652v16M267.5 650v24M268.5 650v24M269.5 651v24M270.5 651v17M271.5 652v18M272.5 652v20M273.5 653v17M274.5 654v17M275.5 656v16M276.5 656v18M277.5 655v26M278.5 655v25M279.5 654v20M280.5 654v20M281.5 656v18M282.5 657v18M283.5 659v16M284.5 659v23M285.5 660v17M286.5 660v25M287.5 659v25M288.5 660v17M289.5 660v19M290.5 660v20M291.5 662v20M292.5 662v19M293.5 664v15M294.5 664v15M296.5 675v14M297.5 672v17M298.5 669v20M299.5 671v18M300.5 674v15M301.5 670v2M302.5 670v2M303.5 670v2M304.5 670v2M305.5 670v2M306.5 670v2M307.5 670v2M308.5 670v2M309.5 670v2M310.5 670v2M311.5 670v2M312.5 670v2M313.5 654v18M314.5 652v20M315.5 649v7M316.5 647v6M317.5 645v6M318.5 643v5M319.5 641v5M320.5 639v5M321.5 637v5M322.5 635v6M323.5 633v6M324.5 632v5M325.5 630v5M326.5 627v6M327.5 623v8M328.5 620v8M329.5 617v8M330.5 614v8M331.5 609v10M332.5 605v10M333.5 600v11M334.5 596v10M335.5 589v13M336.5 582v15M337.5 576v14M338.5 569v15M339.5 562v15M340.5 556v14M341.5 550v14M342.5 543v14M343.5 537v14M344.5 531v14M345.5 525v13M346.5 519v13M347.5 512v14M348.5 506v14M349.5 500v14M350.5 493v14M351.5 486v15M352.5 481v14M353.5 475v12M354.5 473v15M355.5 473v14M356.5 482v4M357.5 481v4M358.5 481v4M359.5 480v4M360.5 480v4M361.5 479v4M362.5 478v5M363.5 478v4M364.5 477v4M365.5 477v4M366.5 476v4M367.5 476v4M368.5 475v4M369.5 475v4M370.5 474v4M371.5 474v4M372.5 473v4M373.5 473v4M374.5 473v4M375.5 473v4M376.5 473v4M377.5 473v4M378.5 473v5M379.5 474v4M380.5 474v4M381.5 474v4M382.5 474v4M383.5 475v4M384.5 475v4M385.5 475v4M386.5 474v21M387.5 474v19M388.5 480v15M389.5 479v27M390.5 481v25M391.5 480v18M392.5 482v24M393.5 484v16M394.5 487v18M395.5 488v20M396.5 489v18M397.5 492v15M398.5 494v15M399.5 495v17M400.5 496v26M401.5 497v27M402.5 498v28M403.5 499v19M404.5 500v20M405.5 504v15M406.5 506v16M407.5 506v18M408.5 509v19M409.5 513v15M410.5 513v16M411.5 513v30M412.5 516v26M413.5 519v24M414.5 519v18M415.5 521v16M416.5 521v19M417.5 522v26M418.5 526v17M419.5 529v14M420.5 530v15M421.5 528v28M422.5 531v26M423.5 534v24M424.5 534v20M425.5 535v19M426.5 537v19M427.5 540v18M428.5 541v21M429.5 541v18M430.5 544v19M431.5 547v15M432.5 547v26M433.5 547v26M434.5 548v27M435.5 552v22M436.5 549v20M437.5 552v19M438.5 554v20M439.5 558v19M440.5 557v19M441.5 561v17M442.5 564v15M443.5 563v25M444.5 566v25M445.5 564v28M446.5 566v21M447.5 569v20M448.5 572v17M449.5 575v18M450.5 576v18M451.5 577v17M452.5 576v29M453.5 578v27M454.5 576v23M455.5 579v20M456.5 581v18M457.5 584v18M458.5 586v19M459.5 588v17M460.5 590v18M461.5 592v14M462.5 592v25M463.5 593v25M464.5 593v17M465.5 595v20M466.5 596v22M467.5 599v16M468.5 601v18M469.5 601v19M470.5 604v17M471.5 605v20M472.5 606v27M473.5 607v27M474.5 607v20M475.5 610v23M476.5 612v24M477.5 614v17M478.5 615v16M479.5 616v19M480.5 618v18M481.5 618v18M482.5 620v17M483.5 623v22M484.5 623v23M485.5 622v24M486.5 624v23M487.5 626v22M488.5 626v17M489.5 628v23M490.5 629v17M491.5 629v17M492.5 630v24M493.5 632v17M494.5 631v26M495.5 631v28M496.5 632v22M497.5 632v22M498.5 635v20M499.5 634v23M500.5 636v21M501.5 638v17M502.5 638v18M503.5 638v27M504.5 638v24M505.5 636v21M506.5 638v23M507.5 640v17M508.5 640v20M509.5 641v19M510.5 644v18M511.5 645v17M512.5 644v24M513.5 644v24M514.5 644v25M515.5 645v22M516.5 645v17M517.5 645v18M518.5 646v20M519.5 646v21M520.5 649v19M521.5 651v17M522.5 649v26M523.5 651v24M524.5 651v23M525.5 649v19M526.5 651v23M527.5 650v21M528.5 652v19M529.5 653v21M530.5 653v19M531.5 653v19M532.5 654v17M533.5 656v16M534.5 655v23M535.5 655v23M536.5 654v24M537.5 654v24M538.5 654v19M539.5 655v20M540.5 655v23M541.5 659v22M542.5 660v18M543.5 659v24M544.5 660v22M545.5 659v23M546.5 660v24M547.5 656v24M548.5 661v17M549.5 661v17M550.5 661v19M551.5 661v18M552.5 665v15M553.5 664v17M554.5 664v24M555.5 664v25"/>
<path stroke="#4daf4a" d="M126.5 475v25M127.5 477v24M128.5 478v23M129.5 477v19M130.5 480v18M131.5 483v17M132.5 485v15M133.5 486v20M134.5 488v18M135.5 489v18M136.5 492v15M137.5 494v21M138.5 495v26M139.5 495v27M140.5 495v20M141.5 497v17M142.5 501v15M143.5 503v18M144.5 504v18M145.5 506v17M146.5 507v16M147.5 510v16M148.5 511v27M149.5 512v27M150.5 512v28M151.5 513v21M152.5 515v19M153.5 519v15M154.5 523v15M155.5 523v15M156.5 524v24M157.5 525v24M158.5 525v19M159.5 525v22M160.5 530v25M161.5 532v15M162.5 533v16M163.5 534v18M164.5 535v18M165.5 536v17M166.5 540v17M167.5 540v19M168.5 542v25M169.5 544v24M170.5 544v26M171.5 543v22M172.5 544v20M173.5 546v21M174.5 550v19M175.5 552v24M176.5 553v18M177.5 554v18M178.5 556v16M179.5 559v14M180.5 558v28M181.5 559v27M182.5 561v25M183.5 563v25M184.5 562v18M185.5 565v21M186.5 568v16M187.5 571v17M188.5 573v15M189.5 574v22M190.5 578v13M191.5 578v16M192.5 578v25M193.5 580v24M194.5 579v21M195.5 581v20M196.5 583v20M197.5 586v16M198.5 588v17M199.5 589v16M200.5 589v16M201.5 591v24M202.5 592v24M203.5 594v24M204.5 593v26M205.5 595v17M206.5 597v18M207.5 600v19M208.5 601v18M209.5 601v26M210.5 601v29M211.5 605v25M212.5 606v24M213.5 602v22M214.5 605v19M215.5 609v18M216.5 612v16M217.5 613v16M218.5 612v26M219.5 614v26M220.5 616v25M221.5 617v23M222.5 616v20M223.5 618v18M224.5 621v16M225.5 622v18M226.5 626v19M227.5 626v16M228.5 624v24M229.5 626v23M230.5 628v22M231.5 630v21M232.5 628v23M233.5 630v20M234.5 632v18M235.5 633v19M236.5 636v18M237.5 636v16M238.5 635v25M239.5 637v24M240.5 637v25M241.5 636v19M242.5 637v19M243.5 638v17M244.5 640v18M245.5 639v18M246.5 641v17M247.5 643v15M248.5 642v25M249.5 642v26M250.5 643v26M251.5 644v23M252.5 643v18M253.5 644v17M254.5 644v18M255.5 646v17M256.5 647v24M257.5 647v23M258.5 646v26M259.5 648v25M260.5 646v25M261.5 647v18M262.5 648v19M263.5 649v19M264.5 650v19M265.5 652v16M266.5 652v15M267.5 651v23M268.5 652v22M269.5 652v24M270.5 651v16M271.5 652v17M272.5 653v18M273.5 654v16M274.5 655v16M275.5 657v14M276.5 658v15M277.5 656v24M278.5 656v23M279.5 654v21M280.5 655v21M281.5 657v18M282.5 659v16M283.5 659v15M284.5 660v21M285.5 661v16M286.5 660v25M287.5 661v23M288.5 660v17M289.5 660v20M290.5 662v17M291.5 663v18M292.5 662v19M293.5 662v17M294.5 665v14M296.5 675v14M297.5 672v17M298.5 669v20M299.5 671v18M300.5 674v15M301.5 677v1M302.5 677v1M303.5 672v1M304.5 672v1M305.5 672v1M306.5 672v1M307.5 672v1M308.5 672v1M309.5 677v1M310.5 677v1M311.5 677v1M312.5 677v1M313.5 652v26M314.5 650v28M315.5 647v7M316.5 645v6M317.5 643v6M318.5 641v6M319.5 640v5M320.5 638v5M321.5 636v5M322.5 634v5M323.5 632v5M324.5 630v5M325.5 628v6M326.5 624v8M327.5 621v8M328.5 618v8M329.5 615v8M330.5 610v9M331.5 606v10M332.5 601v11M333.5 597v10M334.5 591v12M335.5 584v14M336.5 577v15M337.5 571v14M338.5 564v15M339.5 558v14M340.5 551v15M341.5 545v14M342.5 538v15M343.5 532v14M344.5 526v14M345.5 520v14M346.5 514v14M347.5 507v15M348.5 501v14M349.5 495v14M350.5 488v15M351.5 482v15M352.5 477v12M353.5 472v12M354.5 474v14M355.5 474v13M356.5 483v4M357.5 483v4M358.5 482v4M359.5 482v4M360.5 481v4M361.5 480v5M362.5 480v4M363.5 479v4M364.5 479v4M365.5 478v4M366.5 478v4M367.5 477v4M368.5 477v4M369.5 476v4M370.5 476v4M371.5 475v4M372.5 475v4M373.5 474v4M374.5 474v4M375.5 474v4M376.5 474v4M377.5 475v4M378.5 475v4M379.5 475v4M380.5 475v4M381.5 475v4M382.5 475v4M383.5 475v4M384.5 475v4M385.5 476v4M386.5 474v20M387.5 474v18M388.5 480v14M389.5 478v26M390.5 479v27M391.5 479v19M392.5 481v25M393.5 484v17M394.5 487v16M395.5 487v22M396.5 490v19M397.5 491v15M398.5 493v16M399.5 495v19M400.5 495v29M401.5 497v26M402.5 498v27M403.5 500v16M404.5 500v19M405.5 504v17M406.5 505v18M407.5 507v17M408.5 508v19M409.5 512v17M410.5 515v15M411.5 514v29M412.5 517v27M413.5 518v26M414.5 518v20M415.5 521v17M416.5 521v19M417.5 523v24M418.5 525v18M419.5 529v15M420.5 530v16M421.5 530v26M422.5 532v25M423.5 535v21M424.5 536v17M425.5 535v19M426.5 538v17M427.5 541v17M428.5 541v23M429.5 545v16M430.5 545v18M431.5 546v18M432.5 547v28M433.5 550v23M434.5 551v24M435.5 551v26M436.5 551v17M437.5 554v17M438.5 556v16M439.5 558v17M440.5 559v18M441.5 563v17M442.5 565v14M443.5 564v26M444.5 565v26M445.5 564v27M446.5 567v20M447.5 571v19M448.5 573v18M449.5 575v16M450.5 578v16M451.5 578v17M452.5 577v27M453.5 578v26M454.5 579v20M455.5 581v19M456.5 584v16M457.5 585v17M458.5 586v19M459.5 588v14M460.5 591v15M461.5 592v13M462.5 592v25M463.5 594v24M464.5 594v17M465.5 596v16M466.5 598v17M467.5 599v16M468.5 600v18M469.5 603v18M470.5 606v16M471.5 607v16M472.5 607v27M473.5 609v28M474.5 608v18M475.5 610v21M476.5 611v23M477.5 615v16M478.5 616v16M479.5 617v17M480.5 620v18M481.5 621v16M482.5 621v15M483.5 622v22M484.5 623v24M485.5 624v24M486.5 625v22M487.5 626v23M488.5 626v18M489.5 627v24M490.5 627v18M491.5 628v18M492.5 632v21M493.5 634v16M494.5 633v25M495.5 635v23M496.5 633v20M497.5 634v19M498.5 635v18M499.5 636v20M500.5 638v19M501.5 639v17M502.5 639v15M503.5 638v24M504.5 639v23M505.5 638v18M506.5 639v23M507.5 640v18M508.5 642v17M509.5 644v15M510.5 645v16M511.5 645v17M512.5 645v24M513.5 645v23M514.5 646v23M515.5 646v25M516.5 645v21M517.5 645v18M518.5 647v19M519.5 648v18M520.5 649v17M521.5 650v18M522.5 650v25M523.5 651v23M524.5 651v24M525.5 649v20M526.5 650v24M527.5 651v18M528.5 653v17M529.5 653v21M530.5 653v19M531.5 654v20M532.5 655v18M533.5 657v15M534.5 654v24M535.5 654v25M536.5 657v23M537.5 657v22M538.5 654v21M539.5 655v17M540.5 657v18M541.5 659v20M542.5 660v16M543.5 659v23M544.5 660v22M545.5 660v22M546.5 661v21M547.5 659v19M548.5 661v16M549.5 661v16M550.5 663v17M551.5 662v17M552.5 664v16M553.5 665v19M554.5 665v26M555.5 665v24"/>
<path stroke="#a65628" d="M128.5 478v3M129.5 478v3M137.5 498v2M138.5 498v2M145.5 507v3M146.5 507v3M147.5 507v3M147.5 515v4M148.5 515v4M155.5 530v4M162.5 538v3M171.5 549v5M172.5 549v5M173.5 551v4M174.5 551v4M175.5 551v4M178.5 556v4M183.5 572v1M184.5 572v1M186.5 574v1M187.5 574v1M188.5 574v1M190.5 580v5M191.5 580v5M196.5 588v1M197.5 588v1M204.5 593v3M205.5 593v3M206.5 593v3M206.5 598v1M207.5 598v1M214.5 617v2M215.5 617v2M216.5 622v4M224.5 628v4M229.5 626v3M239.5 651v3M240.5 651v3M241.5 651v3M241.5 647v4M242.5 647v4M243.5 647v4M242.5 647v4M243.5 647v4M250.5 656v4M253.5 649v1M261.5 648v1M262.5 648v1M268.5 660v3M269.5 660v3M270.5 660v3M269.5 666v4M270.5 666v4M272.5 666v4M273.5 666v4M281.5 663v3M282.5 663v3M283.5 663v3M283.5 660v1M284.5 660v1M284.5 660v5M285.5 660v5M286.5 660v5M289.5 673v5M290.5 673v5M294.5 671v1M295.5 671v1M398.5 499v1M399.5 499v1M401.5 498v3M402.5 498v3M403.5 498v3M412.5 523v4M414.5 519v1M417.5 535v2M426.5 538v2M429.5 555v3M430.5 555v3M431.5 555v3M431.5 549v5M432.5 549v5M433.5 549v5M452.5 578v5M453.5 578v5M459.5 592v5M460.5 592v5M462.5 611v1M467.5 600v4M468.5 600v4M469.5 600v4M472.5 615v3M486.5 640v2M487.5 640v2M488.5 640v2M488.5 629v1M489.5 629v1M490.5 629v1M498.5 638v3M499.5 638v3M499.5 644v4M500.5 644v4M506.5 659v3M509.5 647v5M510.5 647v5M511.5 647v5M518.5 662v4M519.5 662v4M536.5 663v4M537.5 661v1M538.5 661v1M539.5 661v1M541.5 670v4M542.5 670v4M543.5 670v4M552.5 676v4M553.5 676v4M554.5 667v1"/>
<path stroke="#ff7f00" d="M145.5 509v2M176.5 555v2M177.5 555v2M182.5 573v1M191.5 583v2M197.5 591v1M198.5 591v1M203.5 610v1M220.5 616v2M257.5 661v2M258.5 661v2M266.5 653v2M267.5 653v2M270.5 654v2M400.5 503v1M401.5 503v1M408.5 514v2M418.5 531v2M419.5 531v2M435.5 561v2M436.5 561v2M444.5 567v2M445.5 567v2M456.5 585v2M466.5 605v2M467.5 605v2M484.5 627v1M485.5 627v1M503.5 648v1M504.5 648v1M523.5 656v2M524.5 656v2M525.5 663v1M526.5 663v1M533.5 671v1M534.5 671v1M537.5 663v1M538.5 663v1"/>
<path stroke="#377eb8" d="M175.5 570v1M176.5 570v1M176.5 559v1M177.5 559v1M248.5 662v1M249.5 662v1M282.5 669v2M283.5 669v2M431.5 550v1M438.5 557v1M439.5 557v1M490.5 627v2"/>
<path stroke="#f781bf" d="M137.5 505v2M138.5 505v2M180.5 560v1M240.5 641v2M241.5 641v2M272.5 662v1M273.5 662v1M405.5 510v2M406.5 510v2M485.5 628v2M502.5 639v2"/>
<path stroke="#984ea3" d="M169.5 547v1M170.5 547v1M212.5 616v2M213.5 616v2M266.5 660v1M399.5 496v1M545.5 681v1"/>
<path stroke="#e41a1c" d="M137.5 514v1M193.5 602v2M246.5 656v2M247.5 656v2M249.5 667v1M250.5 667v1M386.5 492v2M516.5 664v2M550.5 678v2"/>
</g>
<g stroke="#000" fill="none" shape-rendering="crispEdges">
<path stroke-width="5.6" d="M340.7 1190.6000000000001V2054.5M2315.8 1190.6000000000001V2054.5"/>
<path stroke-width="7.6" d="M337.9 1194.4H2318.6000000000004M337.9 2050.7H2318.6000000000004"/>
<path stroke-width="6.2" d="M340.7 1194.4h-24.5M340.7 1280.0h-10.5M340.7 1365.7h-24.5M340.7 1451.3h-10.5M340.7 1536.9h-24.5M340.7 1622.5h-10.5M340.7 1708.2h-24.5M340.7 1793.8h-10.5M340.7 1879.4h-24.5M340.7 1965.1h-10.5M340.7 2050.7h-24.5"/>
<path stroke-width="6.2" d="M340.7 2050.7v24.5M481.8 2050.7v13.0M622.9 2050.7v24.5M763.9 2050.7v13.0M905.0 2050.7v24.5M1046.1 2050.7v13.0M1187.2 2050.7v24.5M1328.3 2050.7v13.0M1469.3 2050.7v24.5M1610.4 2050.7v13.0M1751.5 2050.7v24.5M1892.6 2050.7v13.0M2033.6 2050.7v24.5M2174.7 2050.7v13.0M2315.8 2050.7v24.5"/>
</g>
<g font-family='"Liberation Serif", "DejaVu Serif", serif' font-size="90" fill="#000">
<text transform="translate(296.5 1213.4) scale(0.975 1)" text-anchor="end">4.3</text>
<text transform="translate(296.5 1384.7) scale(0.975 1)" text-anchor="end">4.1</text>
<text transform="translate(296.5 1555.9) scale(0.975 1)" text-anchor="end">3.9</text>
<text transform="translate(296.5 1727.2) scale(0.975 1)" text-anchor="end">3.7</text>
<text transform="translate(296.5 1898.4) scale(0.975 1)" text-anchor="end">3.5</text>
<text transform="translate(296.5 2069.7) scale(0.975 1)" text-anchor="end">3.3</text>
<text x="340.7" y="2155.9" text-anchor="middle">0</text>
<text x="622.9" y="2155.9" text-anchor="middle">4</text>
<text x="905.0" y="2155.9" text-anchor="middle">8</text>
<text x="1187.2" y="2155.9" text-anchor="middle">12</text>
<text x="1469.3" y="2155.9" text-anchor="middle">16</text>
<text x="1751.5" y="2155.9" text-anchor="middle">20</text>
<text x="2033.6" y="2155.9" text-anchor="middle">24</text>
<text x="2315.8" y="2155.9" text-anchor="middle">28</text>
<text x="1327.4" y="2267.7" text-anchor="middle" style="font-kerning:none" letter-spacing="1.25">Time (h)</text>
<text transform="translate(101 1601.4) rotate(-90)" text-anchor="middle" style="font-kerning:none" letter-spacing="0.4">Voltage (V)</text>
<text x="41.5" y="1260.7" font-size="88" letter-spacing="0.8">(b)</text>
</g>
<rect x="1564.0" y="120.0" width="688.0" height="1674.3" fill="#fff" stroke="#000" stroke-width="3"/>
<g font-family='"Liberation Serif", "DejaVu Serif", serif' font-size="85" fill="#000">
<line x1="1571.6" x2="1792" y1="183.2" y2="183.2" stroke="#f781bf" stroke-width="5.4" shape-rendering="crispEdges"/>
<text x="1809.5" y="215.4" letter-spacing="0.62">cell 1-meas</text>
<line x1="1571.6" x2="1792" y1="302.2" y2="302.2" stroke="#984ea3" stroke-width="5.4" shape-rendering="crispEdges"/>
<text x="1809.5" y="334.4" letter-spacing="0.62">cell 2-meas</text>
<line x1="1571.6" x2="1792" y1="421.3" y2="421.3" stroke="#377eb8" stroke-width="7.0" shape-rendering="crispEdges"/>
<text x="1809.5" y="453.5" letter-spacing="0.62">cell 3-meas</text>
<line x1="1571.6" x2="1792" y1="540.3" y2="540.3" stroke="#e41a1c" stroke-width="5.4" shape-rendering="crispEdges"/>
<text x="1809.5" y="572.5" letter-spacing="0.62">cell 4-meas</text>
<line x1="1571.6" x2="1792" y1="659.4" y2="659.4" stroke="#ff7f00" stroke-width="8.0" shape-rendering="crispEdges"/>
<text x="1809.5" y="691.6" letter-spacing="0.62">cell 5-meas</text>
<line x1="1571.6" x2="1792" y1="778.4" y2="778.4" stroke="#a65628" stroke-width="5.4" shape-rendering="crispEdges"/>
<text x="1809.5" y="810.6" letter-spacing="0.62">cell 6-meas</text>
<line x1="1571.6" x2="1792" y1="897.4" y2="897.4" stroke="#4daf4a" stroke-width="5.4" shape-rendering="crispEdges"/>
<text x="1809.5" y="929.6" letter-spacing="0.62">cell 7-meas</text>
<line x1="1571.6" x2="1792" y1="1016.5" y2="1016.5" stroke="#f781bf" stroke-width="5.4" stroke-dasharray="16 14" shape-rendering="crispEdges"/>
<text x="1809.5" y="1048.7" letter-spacing="0.62">cell 1-pred</text>
<line x1="1571.6" x2="1792" y1="1135.5" y2="1135.5" stroke="#984ea3" stroke-width="5.4" stroke-dasharray="16 14" shape-rendering="crispEdges"/>
<text x="1809.5" y="1167.7" letter-spacing="0.62">cell 2-pred</text>
<line x1="1571.6" x2="1792" y1="1254.5" y2="1254.5" stroke="#377eb8" stroke-width="7.0" stroke-dasharray="16 14" shape-rendering="crispEdges"/>
<text x="1809.5" y="1286.7" letter-spacing="0.62">cell 3-pred</text>
<line x1="1571.6" x2="1792" y1="1373.6" y2="1373.6" stroke="#e41a1c" stroke-width="5.4" stroke-dasharray="16 14" shape-rendering="crispEdges"/>
<text x="1809.5" y="1405.8" letter-spacing="0.62">cell 4-pred</text>
<line x1="1571.6" x2="1792" y1="1492.6" y2="1492.6" stroke="#ff7f00" stroke-width="5.4" stroke-dasharray="16 14" shape-rendering="crispEdges"/>
<text x="1809.5" y="1524.8" letter-spacing="0.62">cell 5-pred</text>
<line x1="1571.6" x2="1792" y1="1611.7" y2="1611.7" stroke="#a65628" stroke-width="7.0" stroke-dasharray="16 14" shape-rendering="crispEdges"/>
<text x="1809.5" y="1643.9" letter-spacing="0.62">cell 6-pred</text>
<line x1="1571.6" x2="1792" y1="1730.7" y2="1730.7" stroke="#4daf4a" stroke-width="5.4" stroke-dasharray="16 14" shape-rendering="crispEdges"/>
<text x="1809.5" y="1762.9" letter-spacing="0.62">cell 7-pred</text>
</g>
</svg>
</body></html>
